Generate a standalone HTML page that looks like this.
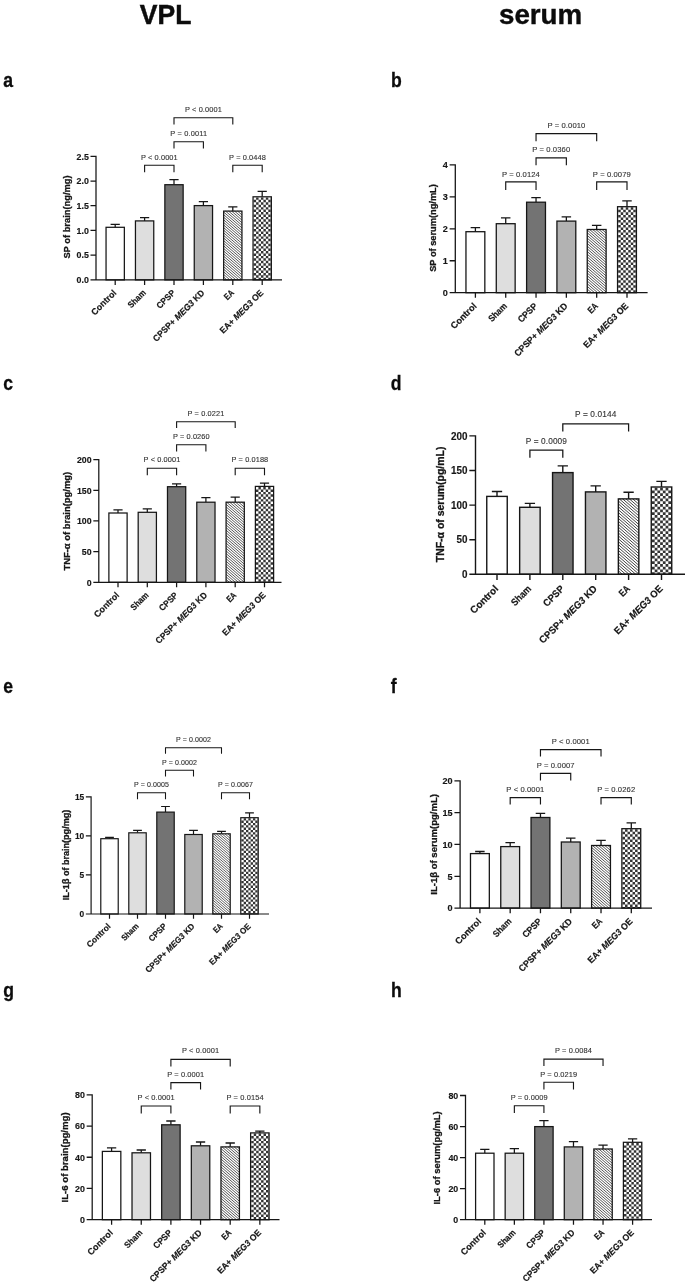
<!DOCTYPE html>
<html lang="en"><head><meta charset="utf-8"><title>VPL / serum cytokine levels</title>
<style>html,body{margin:0;padding:0;background:#fff}svg{display:block}</style></head>
<body>
<svg width="685" height="1288" viewBox="0 0 685 1288" font-family='"Liberation Sans", Arial, Helvetica, sans-serif'>
<rect width="685" height="1288" fill="#fff"/>
<text x="165.6" y="24" font-size="28" font-weight="bold" text-anchor="middle" textLength="51.5" lengthAdjust="spacingAndGlyphs" fill="#0c0c0c" stroke="#0c0c0c" stroke-width="0.5">VPL</text>
<text x="540.6" y="24" font-size="28" font-weight="bold" text-anchor="middle" textLength="83.2" lengthAdjust="spacingAndGlyphs" fill="#0c0c0c" stroke="#0c0c0c" stroke-width="0.4">serum</text>
<g id="panel-a">
<text transform="translate(3.3 87) scale(0.88 1)" font-size="20" font-weight="bold" fill="#0c0c0c" stroke="#0c0c0c" stroke-width="0.3">a</text>
<path d="M115.2 227.3V224.3M110.6 224.3H119.8" stroke="#161616" stroke-width="1.25" fill="none"/>
<rect x="106.05" y="227.3" width="18.3" height="52.6" fill="#ffffff" stroke="#161616" stroke-width="1.25"/>
<path d="M144.6 220.9V217.6M140 217.6H149.2" stroke="#161616" stroke-width="1.25" fill="none"/>
<rect x="135.45" y="220.9" width="18.3" height="59" fill="#dedede" stroke="#161616" stroke-width="1.25"/>
<path d="M174 184.7V179.6M169.4 179.6H178.6" stroke="#161616" stroke-width="1.25" fill="none"/>
<rect x="164.85" y="184.7" width="18.3" height="95.2" fill="#737373" stroke="#161616" stroke-width="1.25"/>
<path d="M203.4 205.6V201.5M198.8 201.5H208" stroke="#161616" stroke-width="1.25" fill="none"/>
<rect x="194.25" y="205.6" width="18.3" height="74.3" fill="#b2b2b2" stroke="#161616" stroke-width="1.25"/>
<path d="M232.8 211.1V206.8M228.2 206.8H237.4" stroke="#161616" stroke-width="1.25" fill="none"/>
<rect x="223.65" y="211.1" width="18.3" height="68.8" fill="#fff"/>
<path d="M223.65 279.63L223.96 279.9M223.65 277.03L226.96 279.9M223.65 274.43L229.96 279.9M223.65 271.83L232.96 279.9M223.65 269.23L235.96 279.9M223.65 266.63L238.96 279.9M223.65 264.03L241.95 279.89M223.65 261.43L241.95 277.29M223.65 258.83L241.95 274.69M223.65 256.23L241.95 272.09M223.65 253.63L241.95 269.49M223.65 251.03L241.95 266.89M223.65 248.43L241.95 264.29M223.65 245.83L241.95 261.69M223.65 243.23L241.95 259.09M223.65 240.63L241.95 256.49M223.65 238.03L241.95 253.89M223.65 235.43L241.95 251.29M223.65 232.83L241.95 248.69M223.65 230.23L241.95 246.09M223.65 227.63L241.95 243.49M223.65 225.03L241.95 240.89M223.65 222.43L241.95 238.29M223.65 219.83L241.95 235.69M223.65 217.23L241.95 233.09M223.65 214.63L241.95 230.49M223.65 212.03L241.95 227.89M225.58 211.1L241.95 225.29M228.58 211.1L241.95 222.69M231.58 211.1L241.95 220.09M234.58 211.1L241.95 217.49M237.58 211.1L241.95 214.89M240.58 211.1L241.95 212.29" stroke="#2a2a2a" stroke-width="0.78" fill="none"/>
<rect x="223.65" y="211.1" width="18.3" height="68.8" fill="none" stroke="#161616" stroke-width="1.25"/>
<path d="M262.2 196.8V191.3M257.6 191.3H266.8" stroke="#161616" stroke-width="1.25" fill="none"/>
<rect x="253.05" y="196.8" width="18.3" height="83.1" fill="#fff"/>
<path d="M256.11 197.42h2.44v2.44h-2.44zM260.98 197.42h2.44v2.44h-2.44zM265.85 197.42h2.44v2.44h-2.44zM270.73 197.42h0.62v2.44h-0.62zM253.67 199.86h2.44v2.44h-2.44zM258.55 199.86h2.44v2.44h-2.44zM263.42 199.86h2.44v2.44h-2.44zM268.29 199.86h2.44v2.44h-2.44zM256.11 202.3h2.44v2.44h-2.44zM260.98 202.3h2.44v2.44h-2.44zM265.85 202.3h2.44v2.44h-2.44zM270.73 202.3h0.62v2.44h-0.62zM253.67 204.73h2.44v2.44h-2.44zM258.55 204.73h2.44v2.44h-2.44zM263.42 204.73h2.44v2.44h-2.44zM268.29 204.73h2.44v2.44h-2.44zM256.11 207.17h2.44v2.44h-2.44zM260.98 207.17h2.44v2.44h-2.44zM265.85 207.17h2.44v2.44h-2.44zM270.73 207.17h0.62v2.44h-0.62zM253.67 209.6h2.44v2.44h-2.44zM258.55 209.6h2.44v2.44h-2.44zM263.42 209.6h2.44v2.44h-2.44zM268.29 209.6h2.44v2.44h-2.44zM256.11 212.04h2.44v2.44h-2.44zM260.98 212.04h2.44v2.44h-2.44zM265.85 212.04h2.44v2.44h-2.44zM270.73 212.04h0.62v2.44h-0.62zM253.67 214.48h2.44v2.44h-2.44zM258.55 214.48h2.44v2.44h-2.44zM263.42 214.48h2.44v2.44h-2.44zM268.29 214.48h2.44v2.44h-2.44zM256.11 216.91h2.44v2.44h-2.44zM260.98 216.91h2.44v2.44h-2.44zM265.85 216.91h2.44v2.44h-2.44zM270.73 216.91h0.62v2.44h-0.62zM253.67 219.35h2.44v2.44h-2.44zM258.55 219.35h2.44v2.44h-2.44zM263.42 219.35h2.44v2.44h-2.44zM268.29 219.35h2.44v2.44h-2.44zM256.11 221.78h2.44v2.44h-2.44zM260.98 221.78h2.44v2.44h-2.44zM265.85 221.78h2.44v2.44h-2.44zM270.73 221.78h0.62v2.44h-0.62zM253.67 224.22h2.44v2.44h-2.44zM258.55 224.22h2.44v2.44h-2.44zM263.42 224.22h2.44v2.44h-2.44zM268.29 224.22h2.44v2.44h-2.44zM256.11 226.66h2.44v2.44h-2.44zM260.98 226.66h2.44v2.44h-2.44zM265.85 226.66h2.44v2.44h-2.44zM270.73 226.66h0.62v2.44h-0.62zM253.67 229.09h2.44v2.44h-2.44zM258.55 229.09h2.44v2.44h-2.44zM263.42 229.09h2.44v2.44h-2.44zM268.29 229.09h2.44v2.44h-2.44zM256.11 231.53h2.44v2.44h-2.44zM260.98 231.53h2.44v2.44h-2.44zM265.85 231.53h2.44v2.44h-2.44zM270.73 231.53h0.62v2.44h-0.62zM253.67 233.96h2.44v2.44h-2.44zM258.55 233.96h2.44v2.44h-2.44zM263.42 233.96h2.44v2.44h-2.44zM268.29 233.96h2.44v2.44h-2.44zM256.11 236.4h2.44v2.44h-2.44zM260.98 236.4h2.44v2.44h-2.44zM265.85 236.4h2.44v2.44h-2.44zM270.73 236.4h0.62v2.44h-0.62zM253.67 238.83h2.44v2.44h-2.44zM258.55 238.83h2.44v2.44h-2.44zM263.42 238.83h2.44v2.44h-2.44zM268.29 238.83h2.44v2.44h-2.44zM256.11 241.27h2.44v2.44h-2.44zM260.98 241.27h2.44v2.44h-2.44zM265.85 241.27h2.44v2.44h-2.44zM270.73 241.27h0.62v2.44h-0.62zM253.67 243.71h2.44v2.44h-2.44zM258.55 243.71h2.44v2.44h-2.44zM263.42 243.71h2.44v2.44h-2.44zM268.29 243.71h2.44v2.44h-2.44zM256.11 246.14h2.44v2.44h-2.44zM260.98 246.14h2.44v2.44h-2.44zM265.85 246.14h2.44v2.44h-2.44zM270.73 246.14h0.62v2.44h-0.62zM253.67 248.58h2.44v2.44h-2.44zM258.55 248.58h2.44v2.44h-2.44zM263.42 248.58h2.44v2.44h-2.44zM268.29 248.58h2.44v2.44h-2.44zM256.11 251.01h2.44v2.44h-2.44zM260.98 251.01h2.44v2.44h-2.44zM265.85 251.01h2.44v2.44h-2.44zM270.73 251.01h0.62v2.44h-0.62zM253.67 253.45h2.44v2.44h-2.44zM258.55 253.45h2.44v2.44h-2.44zM263.42 253.45h2.44v2.44h-2.44zM268.29 253.45h2.44v2.44h-2.44zM256.11 255.89h2.44v2.44h-2.44zM260.98 255.89h2.44v2.44h-2.44zM265.85 255.89h2.44v2.44h-2.44zM270.73 255.89h0.62v2.44h-0.62zM253.67 258.32h2.44v2.44h-2.44zM258.55 258.32h2.44v2.44h-2.44zM263.42 258.32h2.44v2.44h-2.44zM268.29 258.32h2.44v2.44h-2.44zM256.11 260.76h2.44v2.44h-2.44zM260.98 260.76h2.44v2.44h-2.44zM265.85 260.76h2.44v2.44h-2.44zM270.73 260.76h0.62v2.44h-0.62zM253.67 263.19h2.44v2.44h-2.44zM258.55 263.19h2.44v2.44h-2.44zM263.42 263.19h2.44v2.44h-2.44zM268.29 263.19h2.44v2.44h-2.44zM256.11 265.63h2.44v2.44h-2.44zM260.98 265.63h2.44v2.44h-2.44zM265.85 265.63h2.44v2.44h-2.44zM270.73 265.63h0.62v2.44h-0.62zM253.67 268.06h2.44v2.44h-2.44zM258.55 268.06h2.44v2.44h-2.44zM263.42 268.06h2.44v2.44h-2.44zM268.29 268.06h2.44v2.44h-2.44zM256.11 270.5h2.44v2.44h-2.44zM260.98 270.5h2.44v2.44h-2.44zM265.85 270.5h2.44v2.44h-2.44zM270.73 270.5h0.62v2.44h-0.62zM253.67 272.94h2.44v2.44h-2.44zM258.55 272.94h2.44v2.44h-2.44zM263.42 272.94h2.44v2.44h-2.44zM268.29 272.94h2.44v2.44h-2.44zM256.11 275.37h2.44v2.44h-2.44zM260.98 275.37h2.44v2.44h-2.44zM265.85 275.37h2.44v2.44h-2.44zM270.73 275.37h0.62v2.44h-0.62zM253.67 277.81h2.44v2.09h-2.44zM258.55 277.81h2.44v2.09h-2.44zM263.42 277.81h2.44v2.09h-2.44zM268.29 277.81h2.44v2.09h-2.44z" fill="#333"/>
<rect x="253.05" y="196.8" width="18.3" height="83.1" fill="none" stroke="#161616" stroke-width="1.25"/>
<path d="M96 155.68V279.9H282M96 279.9h-5.5M96 255.18h-5.5M96 230.46h-5.5M96 205.74h-5.5M96 181.02h-5.5M96 156.3h-5.5M115.2 279.9v5M144.6 279.9v5M174 279.9v5M203.4 279.9v5M232.8 279.9v5M262.2 279.9v5" stroke="#161616" stroke-width="1.25" fill="none"/>
<text transform="translate(88.8 283.17) scale(0.96 1)" font-size="9.2" font-weight="bold" text-anchor="end" fill="#161616" stroke="#161616" stroke-width="0.15">0.0</text>
<text transform="translate(88.8 258.45) scale(0.96 1)" font-size="9.2" font-weight="bold" text-anchor="end" fill="#161616" stroke="#161616" stroke-width="0.15">0.5</text>
<text transform="translate(88.8 233.73) scale(0.96 1)" font-size="9.2" font-weight="bold" text-anchor="end" fill="#161616" stroke="#161616" stroke-width="0.15">1.0</text>
<text transform="translate(88.8 209.01) scale(0.96 1)" font-size="9.2" font-weight="bold" text-anchor="end" fill="#161616" stroke="#161616" stroke-width="0.15">1.5</text>
<text transform="translate(88.8 184.29) scale(0.96 1)" font-size="9.2" font-weight="bold" text-anchor="end" fill="#161616" stroke="#161616" stroke-width="0.15">2.0</text>
<text transform="translate(88.8 159.57) scale(0.96 1)" font-size="9.2" font-weight="bold" text-anchor="end" fill="#161616" stroke="#161616" stroke-width="0.15">2.5</text>
<text transform="translate(69.7 217) rotate(-90)" font-size="9.3" font-weight="bold" text-anchor="middle" textLength="83.2" lengthAdjust="spacingAndGlyphs" fill="#161616" stroke="#161616" stroke-width="0.3">SP of brain(ng/mg)</text>
<text transform="translate(117 293.4) rotate(-45)" font-size="8.88" font-weight="bold" text-anchor="end" textLength="31.5" lengthAdjust="spacingAndGlyphs" fill="#161616" stroke="#161616" stroke-width="0.18">Control</text>
<text transform="translate(146.4 293.4) rotate(-45)" font-size="8.88" font-weight="bold" text-anchor="end" textLength="21.5" lengthAdjust="spacingAndGlyphs" fill="#161616" stroke="#161616" stroke-width="0.18">Sham</text>
<text transform="translate(175.8 293.4) rotate(-45)" font-size="8.88" font-weight="bold" text-anchor="end" textLength="22.5" lengthAdjust="spacingAndGlyphs" fill="#161616" stroke="#161616" stroke-width="0.18">CPSP</text>
<text transform="translate(205.2 293.4) rotate(-45)" font-size="8.88" font-weight="bold" text-anchor="end" textLength="69" lengthAdjust="spacingAndGlyphs" fill="#161616" stroke="#161616" stroke-width="0.18">CPSP+ <tspan font-style="italic">MEG3</tspan> KD</text>
<text transform="translate(234.6 293.4) rotate(-45)" font-size="8.88" font-weight="bold" text-anchor="end" textLength="10" lengthAdjust="spacingAndGlyphs" fill="#161616" stroke="#161616" stroke-width="0.18">EA</text>
<text transform="translate(264 293.4) rotate(-45)" font-size="8.88" font-weight="bold" text-anchor="end" textLength="57.5" lengthAdjust="spacingAndGlyphs" fill="#161616" stroke="#161616" stroke-width="0.18">EA+ <tspan font-style="italic">MEG3</tspan> OE</text>
<path d="M174 124.5V117.7H232.8V124.5" stroke="#161616" stroke-width="1.12" fill="none"/>
<text x="203.4" y="112.26" font-size="7.4" text-anchor="middle" textLength="36.8" fill="#333" stroke="#333" stroke-width="0.12">P &lt; 0.0001</text>
<path d="M174 148.4V141.7H203.4V148.4" stroke="#161616" stroke-width="1.12" fill="none"/>
<text x="188.7" y="135.86" font-size="7.4" text-anchor="middle" textLength="36.8" fill="#333" stroke="#333" stroke-width="0.12">P = 0.0011</text>
<path d="M144.6 172.3V165.3H174V172.3" stroke="#161616" stroke-width="1.12" fill="none"/>
<text x="159.3" y="159.56" font-size="7.4" text-anchor="middle" textLength="36.8" fill="#333" stroke="#333" stroke-width="0.12">P &lt; 0.0001</text>
<path d="M232.8 172.3V165.3H262.2V172.3" stroke="#161616" stroke-width="1.12" fill="none"/>
<text x="247.5" y="159.56" font-size="7.4" text-anchor="middle" textLength="36.8" fill="#333" stroke="#333" stroke-width="0.12">P = 0.0448</text>
</g>
<g id="panel-b">
<text transform="translate(391.1 87) scale(0.88 1)" font-size="20" font-weight="bold" fill="#0c0c0c" stroke="#0c0c0c" stroke-width="0.3">b</text>
<path d="M475.4 231.7V227.6M470.66 227.6H480.14" stroke="#161616" stroke-width="1.29" fill="none"/>
<rect x="465.96" y="231.7" width="18.87" height="61" fill="#ffffff" stroke="#161616" stroke-width="1.29"/>
<path d="M505.72 223.7V217.9M500.98 217.9H510.46" stroke="#161616" stroke-width="1.29" fill="none"/>
<rect x="496.28" y="223.7" width="18.87" height="69" fill="#dedede" stroke="#161616" stroke-width="1.29"/>
<path d="M536.04 202.2V197.7M531.3 197.7H540.78" stroke="#161616" stroke-width="1.29" fill="none"/>
<rect x="526.6" y="202.2" width="18.87" height="90.5" fill="#737373" stroke="#161616" stroke-width="1.29"/>
<path d="M566.36 221.1V216.9M561.62 216.9H571.1" stroke="#161616" stroke-width="1.29" fill="none"/>
<rect x="556.92" y="221.1" width="18.87" height="71.6" fill="#b2b2b2" stroke="#161616" stroke-width="1.29"/>
<path d="M596.68 229.5V225.3M591.94 225.3H601.42" stroke="#161616" stroke-width="1.29" fill="none"/>
<rect x="587.24" y="229.5" width="18.87" height="63.2" fill="#fff"/>
<path d="M587.24 291.75L588.33 292.7M587.24 289.07L591.43 292.7M587.24 286.39L594.52 292.7M587.24 283.71L597.62 292.7M587.24 281.03L600.71 292.7M587.24 278.35L603.8 292.7M587.24 275.67L606.12 292.02M587.24 272.98L606.12 289.34M587.24 270.3L606.12 286.66M587.24 267.62L606.12 283.98M587.24 264.94L606.12 281.3M587.24 262.26L606.12 278.62M587.24 259.58L606.12 275.93M587.24 256.9L606.12 273.25M587.24 254.21L606.12 270.57M587.24 251.53L606.12 267.89M587.24 248.85L606.12 265.21M587.24 246.17L606.12 262.53M587.24 243.49L606.12 259.85M587.24 240.81L606.12 257.17M587.24 238.13L606.12 254.48M587.24 235.45L606.12 251.8M587.24 232.76L606.12 249.12M587.24 230.08L606.12 246.44M589.66 229.5L606.12 243.76M592.76 229.5L606.12 241.08M595.85 229.5L606.12 238.4M598.95 229.5L606.12 235.71M602.04 229.5L606.12 233.03M605.13 229.5L606.12 230.35" stroke="#2a2a2a" stroke-width="0.8" fill="none"/>
<rect x="587.24" y="229.5" width="18.87" height="63.2" fill="none" stroke="#161616" stroke-width="1.29"/>
<path d="M627 206.7V200.9M622.26 200.9H631.74" stroke="#161616" stroke-width="1.29" fill="none"/>
<rect x="617.56" y="206.7" width="18.87" height="86" fill="#fff"/>
<path d="M620.72 207.34h2.51v2.51h-2.51zM625.74 207.34h2.51v2.51h-2.51zM630.77 207.34h2.51v2.51h-2.51zM635.79 207.34h0.64v2.51h-0.64zM618.21 209.86h2.51v2.51h-2.51zM623.23 209.86h2.51v2.51h-2.51zM628.26 209.86h2.51v2.51h-2.51zM633.28 209.86h2.51v2.51h-2.51zM620.72 212.37h2.51v2.51h-2.51zM625.74 212.37h2.51v2.51h-2.51zM630.77 212.37h2.51v2.51h-2.51zM635.79 212.37h0.64v2.51h-0.64zM618.21 214.88h2.51v2.51h-2.51zM623.23 214.88h2.51v2.51h-2.51zM628.26 214.88h2.51v2.51h-2.51zM633.28 214.88h2.51v2.51h-2.51zM620.72 217.39h2.51v2.51h-2.51zM625.74 217.39h2.51v2.51h-2.51zM630.77 217.39h2.51v2.51h-2.51zM635.79 217.39h0.64v2.51h-0.64zM618.21 219.9h2.51v2.51h-2.51zM623.23 219.9h2.51v2.51h-2.51zM628.26 219.9h2.51v2.51h-2.51zM633.28 219.9h2.51v2.51h-2.51zM620.72 222.42h2.51v2.51h-2.51zM625.74 222.42h2.51v2.51h-2.51zM630.77 222.42h2.51v2.51h-2.51zM635.79 222.42h0.64v2.51h-0.64zM618.21 224.93h2.51v2.51h-2.51zM623.23 224.93h2.51v2.51h-2.51zM628.26 224.93h2.51v2.51h-2.51zM633.28 224.93h2.51v2.51h-2.51zM620.72 227.44h2.51v2.51h-2.51zM625.74 227.44h2.51v2.51h-2.51zM630.77 227.44h2.51v2.51h-2.51zM635.79 227.44h0.64v2.51h-0.64zM618.21 229.95h2.51v2.51h-2.51zM623.23 229.95h2.51v2.51h-2.51zM628.26 229.95h2.51v2.51h-2.51zM633.28 229.95h2.51v2.51h-2.51zM620.72 232.47h2.51v2.51h-2.51zM625.74 232.47h2.51v2.51h-2.51zM630.77 232.47h2.51v2.51h-2.51zM635.79 232.47h0.64v2.51h-0.64zM618.21 234.98h2.51v2.51h-2.51zM623.23 234.98h2.51v2.51h-2.51zM628.26 234.98h2.51v2.51h-2.51zM633.28 234.98h2.51v2.51h-2.51zM620.72 237.49h2.51v2.51h-2.51zM625.74 237.49h2.51v2.51h-2.51zM630.77 237.49h2.51v2.51h-2.51zM635.79 237.49h0.64v2.51h-0.64zM618.21 240h2.51v2.51h-2.51zM623.23 240h2.51v2.51h-2.51zM628.26 240h2.51v2.51h-2.51zM633.28 240h2.51v2.51h-2.51zM620.72 242.51h2.51v2.51h-2.51zM625.74 242.51h2.51v2.51h-2.51zM630.77 242.51h2.51v2.51h-2.51zM635.79 242.51h0.64v2.51h-0.64zM618.21 245.03h2.51v2.51h-2.51zM623.23 245.03h2.51v2.51h-2.51zM628.26 245.03h2.51v2.51h-2.51zM633.28 245.03h2.51v2.51h-2.51zM620.72 247.54h2.51v2.51h-2.51zM625.74 247.54h2.51v2.51h-2.51zM630.77 247.54h2.51v2.51h-2.51zM635.79 247.54h0.64v2.51h-0.64zM618.21 250.05h2.51v2.51h-2.51zM623.23 250.05h2.51v2.51h-2.51zM628.26 250.05h2.51v2.51h-2.51zM633.28 250.05h2.51v2.51h-2.51zM620.72 252.56h2.51v2.51h-2.51zM625.74 252.56h2.51v2.51h-2.51zM630.77 252.56h2.51v2.51h-2.51zM635.79 252.56h0.64v2.51h-0.64zM618.21 255.07h2.51v2.51h-2.51zM623.23 255.07h2.51v2.51h-2.51zM628.26 255.07h2.51v2.51h-2.51zM633.28 255.07h2.51v2.51h-2.51zM620.72 257.59h2.51v2.51h-2.51zM625.74 257.59h2.51v2.51h-2.51zM630.77 257.59h2.51v2.51h-2.51zM635.79 257.59h0.64v2.51h-0.64zM618.21 260.1h2.51v2.51h-2.51zM623.23 260.1h2.51v2.51h-2.51zM628.26 260.1h2.51v2.51h-2.51zM633.28 260.1h2.51v2.51h-2.51zM620.72 262.61h2.51v2.51h-2.51zM625.74 262.61h2.51v2.51h-2.51zM630.77 262.61h2.51v2.51h-2.51zM635.79 262.61h0.64v2.51h-0.64zM618.21 265.12h2.51v2.51h-2.51zM623.23 265.12h2.51v2.51h-2.51zM628.26 265.12h2.51v2.51h-2.51zM633.28 265.12h2.51v2.51h-2.51zM620.72 267.63h2.51v2.51h-2.51zM625.74 267.63h2.51v2.51h-2.51zM630.77 267.63h2.51v2.51h-2.51zM635.79 267.63h0.64v2.51h-0.64zM618.21 270.15h2.51v2.51h-2.51zM623.23 270.15h2.51v2.51h-2.51zM628.26 270.15h2.51v2.51h-2.51zM633.28 270.15h2.51v2.51h-2.51zM620.72 272.66h2.51v2.51h-2.51zM625.74 272.66h2.51v2.51h-2.51zM630.77 272.66h2.51v2.51h-2.51zM635.79 272.66h0.64v2.51h-0.64zM618.21 275.17h2.51v2.51h-2.51zM623.23 275.17h2.51v2.51h-2.51zM628.26 275.17h2.51v2.51h-2.51zM633.28 275.17h2.51v2.51h-2.51zM620.72 277.68h2.51v2.51h-2.51zM625.74 277.68h2.51v2.51h-2.51zM630.77 277.68h2.51v2.51h-2.51zM635.79 277.68h0.64v2.51h-0.64zM618.21 280.19h2.51v2.51h-2.51zM623.23 280.19h2.51v2.51h-2.51zM628.26 280.19h2.51v2.51h-2.51zM633.28 280.19h2.51v2.51h-2.51zM620.72 282.71h2.51v2.51h-2.51zM625.74 282.71h2.51v2.51h-2.51zM630.77 282.71h2.51v2.51h-2.51zM635.79 282.71h0.64v2.51h-0.64zM618.21 285.22h2.51v2.51h-2.51zM623.23 285.22h2.51v2.51h-2.51zM628.26 285.22h2.51v2.51h-2.51zM633.28 285.22h2.51v2.51h-2.51zM620.72 287.73h2.51v2.51h-2.51zM625.74 287.73h2.51v2.51h-2.51zM630.77 287.73h2.51v2.51h-2.51zM635.79 287.73h0.64v2.51h-0.64zM618.21 290.24h2.51v2.46h-2.51zM623.23 290.24h2.51v2.46h-2.51zM628.26 290.24h2.51v2.46h-2.51zM633.28 290.24h2.51v2.46h-2.51z" fill="#333"/>
<rect x="617.56" y="206.7" width="18.87" height="86" fill="none" stroke="#161616" stroke-width="1.29"/>
<path d="M455.3 164.26V292.7H647.6M455.3 292.7h-5.67M455.3 260.75h-5.67M455.3 228.8h-5.67M455.3 196.85h-5.67M455.3 164.9h-5.67M475.4 292.7v5.16M505.72 292.7v5.16M536.04 292.7v5.16M566.36 292.7v5.16M596.68 292.7v5.16M627 292.7v5.16" stroke="#161616" stroke-width="1.29" fill="none"/>
<text transform="translate(447.87 296.07) scale(0.96 1)" font-size="9.49" font-weight="bold" text-anchor="end" fill="#161616" stroke="#161616" stroke-width="0.15">0</text>
<text transform="translate(447.87 264.12) scale(0.96 1)" font-size="9.49" font-weight="bold" text-anchor="end" fill="#161616" stroke="#161616" stroke-width="0.15">1</text>
<text transform="translate(447.87 232.17) scale(0.96 1)" font-size="9.49" font-weight="bold" text-anchor="end" fill="#161616" stroke="#161616" stroke-width="0.15">2</text>
<text transform="translate(447.87 200.22) scale(0.96 1)" font-size="9.49" font-weight="bold" text-anchor="end" fill="#161616" stroke="#161616" stroke-width="0.15">3</text>
<text transform="translate(447.87 168.27) scale(0.96 1)" font-size="9.49" font-weight="bold" text-anchor="end" fill="#161616" stroke="#161616" stroke-width="0.15">4</text>
<text transform="translate(435.5 228) rotate(-90)" font-size="9.59" font-weight="bold" text-anchor="middle" textLength="87.7" lengthAdjust="spacingAndGlyphs" fill="#161616" stroke="#161616" stroke-width="0.3">SP of serum(ng/mL)</text>
<text transform="translate(477.26 306.62) rotate(-45)" font-size="9.16" font-weight="bold" text-anchor="end" textLength="32.49" lengthAdjust="spacingAndGlyphs" fill="#161616" stroke="#161616" stroke-width="0.18">Control</text>
<text transform="translate(507.58 306.62) rotate(-45)" font-size="9.16" font-weight="bold" text-anchor="end" textLength="22.17" lengthAdjust="spacingAndGlyphs" fill="#161616" stroke="#161616" stroke-width="0.18">Sham</text>
<text transform="translate(537.9 306.62) rotate(-45)" font-size="9.16" font-weight="bold" text-anchor="end" textLength="23.2" lengthAdjust="spacingAndGlyphs" fill="#161616" stroke="#161616" stroke-width="0.18">CPSP</text>
<text transform="translate(568.22 306.62) rotate(-45)" font-size="9.16" font-weight="bold" text-anchor="end" textLength="71.16" lengthAdjust="spacingAndGlyphs" fill="#161616" stroke="#161616" stroke-width="0.18">CPSP+ <tspan font-style="italic">MEG3</tspan> KD</text>
<text transform="translate(598.54 306.62) rotate(-45)" font-size="9.16" font-weight="bold" text-anchor="end" textLength="10.31" lengthAdjust="spacingAndGlyphs" fill="#161616" stroke="#161616" stroke-width="0.18">EA</text>
<text transform="translate(628.86 306.62) rotate(-45)" font-size="9.16" font-weight="bold" text-anchor="end" textLength="59.3" lengthAdjust="spacingAndGlyphs" fill="#161616" stroke="#161616" stroke-width="0.18">EA+ <tspan font-style="italic">MEG3</tspan> OE</text>
<path d="M536.04 141.3V133.7H596.68V141.3" stroke="#161616" stroke-width="1.16" fill="none"/>
<text x="566.36" y="127.75" font-size="7.63" text-anchor="middle" textLength="37.95" fill="#333" stroke="#333" stroke-width="0.12">P = 0.0010</text>
<path d="M536.04 165.2V157.8H566.36V165.2" stroke="#161616" stroke-width="1.16" fill="none"/>
<text x="551.2" y="152.25" font-size="7.63" text-anchor="middle" textLength="37.95" fill="#333" stroke="#333" stroke-width="0.12">P = 0.0360</text>
<path d="M505.72 190V181.9H536.04V190" stroke="#161616" stroke-width="1.16" fill="none"/>
<text x="520.88" y="176.65" font-size="7.63" text-anchor="middle" textLength="37.95" fill="#333" stroke="#333" stroke-width="0.12">P = 0.0124</text>
<path d="M596.68 190V181.9H627V190" stroke="#161616" stroke-width="1.16" fill="none"/>
<text x="611.84" y="176.65" font-size="7.63" text-anchor="middle" textLength="37.95" fill="#333" stroke="#333" stroke-width="0.12">P = 0.0079</text>
</g>
<g id="panel-c">
<text transform="translate(3.3 390) scale(0.88 1)" font-size="20" font-weight="bold" fill="#0c0c0c" stroke="#0c0c0c" stroke-width="0.3">c</text>
<path d="M118 513V509.9M113.42 509.9H122.58" stroke="#161616" stroke-width="1.25" fill="none"/>
<rect x="108.88" y="513" width="18.24" height="69.3" fill="#ffffff" stroke="#161616" stroke-width="1.25"/>
<path d="M147.3 512.3V508.8M142.72 508.8H151.88" stroke="#161616" stroke-width="1.25" fill="none"/>
<rect x="138.18" y="512.3" width="18.24" height="70" fill="#dedede" stroke="#161616" stroke-width="1.25"/>
<path d="M176.6 486.7V483.9M172.02 483.9H181.18" stroke="#161616" stroke-width="1.25" fill="none"/>
<rect x="167.48" y="486.7" width="18.24" height="95.6" fill="#737373" stroke="#161616" stroke-width="1.25"/>
<path d="M205.9 502.2V497.6M201.32 497.6H210.48" stroke="#161616" stroke-width="1.25" fill="none"/>
<rect x="196.78" y="502.2" width="18.24" height="80.1" fill="#b2b2b2" stroke="#161616" stroke-width="1.25"/>
<path d="M235.2 502.2V497.2M230.62 497.2H239.78" stroke="#161616" stroke-width="1.25" fill="none"/>
<rect x="226.08" y="502.2" width="18.24" height="80.1" fill="#fff"/>
<path d="M226.08 582.02L226.41 582.3M226.08 579.43L229.39 582.3M226.08 576.84L232.38 582.3M226.08 574.25L235.37 582.3M226.08 571.65L238.36 582.3M226.08 569.06L241.35 582.3M226.08 566.47L244.32 582.28M226.08 563.88L244.32 579.69M226.08 561.29L244.32 577.1M226.08 558.7L244.32 574.51M226.08 556.11L244.32 571.91M226.08 553.52L244.32 569.32M226.08 550.92L244.32 566.73M226.08 548.33L244.32 564.14M226.08 545.74L244.32 561.55M226.08 543.15L244.32 558.96M226.08 540.56L244.32 556.37M226.08 537.97L244.32 553.78M226.08 535.38L244.32 551.18M226.08 532.79L244.32 548.59M226.08 530.2L244.32 546M226.08 527.6L244.32 543.41M226.08 525.01L244.32 540.82M226.08 522.42L244.32 538.23M226.08 519.83L244.32 535.64M226.08 517.24L244.32 533.05M226.08 514.65L244.32 530.46M226.08 512.06L244.32 527.86M226.08 509.47L244.32 525.27M226.08 506.88L244.32 522.68M226.08 504.28L244.32 520.09M226.67 502.2L244.32 517.5M229.66 502.2L244.32 514.91M232.65 502.2L244.32 512.32M235.64 502.2L244.32 509.73M238.62 502.2L244.32 507.14M241.61 502.2L244.32 504.54" stroke="#2a2a2a" stroke-width="0.78" fill="none"/>
<rect x="226.08" y="502.2" width="18.24" height="80.1" fill="none" stroke="#161616" stroke-width="1.25"/>
<path d="M264.5 486.4V483.2M259.92 483.2H269.08" stroke="#161616" stroke-width="1.25" fill="none"/>
<rect x="255.38" y="486.4" width="18.24" height="95.9" fill="#fff"/>
<path d="M258.43 487.02h2.43v2.43h-2.43zM263.29 487.02h2.43v2.43h-2.43zM268.14 487.02h2.43v2.43h-2.43zM273 487.02h0.62v2.43h-0.62zM256 489.45h2.43v2.43h-2.43zM260.86 489.45h2.43v2.43h-2.43zM265.71 489.45h2.43v2.43h-2.43zM270.57 489.45h2.43v2.43h-2.43zM258.43 491.88h2.43v2.43h-2.43zM263.29 491.88h2.43v2.43h-2.43zM268.14 491.88h2.43v2.43h-2.43zM273 491.88h0.62v2.43h-0.62zM256 494.31h2.43v2.43h-2.43zM260.86 494.31h2.43v2.43h-2.43zM265.71 494.31h2.43v2.43h-2.43zM270.57 494.31h2.43v2.43h-2.43zM258.43 496.73h2.43v2.43h-2.43zM263.29 496.73h2.43v2.43h-2.43zM268.14 496.73h2.43v2.43h-2.43zM273 496.73h0.62v2.43h-0.62zM256 499.16h2.43v2.43h-2.43zM260.86 499.16h2.43v2.43h-2.43zM265.71 499.16h2.43v2.43h-2.43zM270.57 499.16h2.43v2.43h-2.43zM258.43 501.59h2.43v2.43h-2.43zM263.29 501.59h2.43v2.43h-2.43zM268.14 501.59h2.43v2.43h-2.43zM273 501.59h0.62v2.43h-0.62zM256 504.02h2.43v2.43h-2.43zM260.86 504.02h2.43v2.43h-2.43zM265.71 504.02h2.43v2.43h-2.43zM270.57 504.02h2.43v2.43h-2.43zM258.43 506.44h2.43v2.43h-2.43zM263.29 506.44h2.43v2.43h-2.43zM268.14 506.44h2.43v2.43h-2.43zM273 506.44h0.62v2.43h-0.62zM256 508.87h2.43v2.43h-2.43zM260.86 508.87h2.43v2.43h-2.43zM265.71 508.87h2.43v2.43h-2.43zM270.57 508.87h2.43v2.43h-2.43zM258.43 511.3h2.43v2.43h-2.43zM263.29 511.3h2.43v2.43h-2.43zM268.14 511.3h2.43v2.43h-2.43zM273 511.3h0.62v2.43h-0.62zM256 513.73h2.43v2.43h-2.43zM260.86 513.73h2.43v2.43h-2.43zM265.71 513.73h2.43v2.43h-2.43zM270.57 513.73h2.43v2.43h-2.43zM258.43 516.15h2.43v2.43h-2.43zM263.29 516.15h2.43v2.43h-2.43zM268.14 516.15h2.43v2.43h-2.43zM273 516.15h0.62v2.43h-0.62zM256 518.58h2.43v2.43h-2.43zM260.86 518.58h2.43v2.43h-2.43zM265.71 518.58h2.43v2.43h-2.43zM270.57 518.58h2.43v2.43h-2.43zM258.43 521.01h2.43v2.43h-2.43zM263.29 521.01h2.43v2.43h-2.43zM268.14 521.01h2.43v2.43h-2.43zM273 521.01h0.62v2.43h-0.62zM256 523.44h2.43v2.43h-2.43zM260.86 523.44h2.43v2.43h-2.43zM265.71 523.44h2.43v2.43h-2.43zM270.57 523.44h2.43v2.43h-2.43zM258.43 525.86h2.43v2.43h-2.43zM263.29 525.86h2.43v2.43h-2.43zM268.14 525.86h2.43v2.43h-2.43zM273 525.86h0.62v2.43h-0.62zM256 528.29h2.43v2.43h-2.43zM260.86 528.29h2.43v2.43h-2.43zM265.71 528.29h2.43v2.43h-2.43zM270.57 528.29h2.43v2.43h-2.43zM258.43 530.72h2.43v2.43h-2.43zM263.29 530.72h2.43v2.43h-2.43zM268.14 530.72h2.43v2.43h-2.43zM273 530.72h0.62v2.43h-0.62zM256 533.15h2.43v2.43h-2.43zM260.86 533.15h2.43v2.43h-2.43zM265.71 533.15h2.43v2.43h-2.43zM270.57 533.15h2.43v2.43h-2.43zM258.43 535.57h2.43v2.43h-2.43zM263.29 535.57h2.43v2.43h-2.43zM268.14 535.57h2.43v2.43h-2.43zM273 535.57h0.62v2.43h-0.62zM256 538h2.43v2.43h-2.43zM260.86 538h2.43v2.43h-2.43zM265.71 538h2.43v2.43h-2.43zM270.57 538h2.43v2.43h-2.43zM258.43 540.43h2.43v2.43h-2.43zM263.29 540.43h2.43v2.43h-2.43zM268.14 540.43h2.43v2.43h-2.43zM273 540.43h0.62v2.43h-0.62zM256 542.86h2.43v2.43h-2.43zM260.86 542.86h2.43v2.43h-2.43zM265.71 542.86h2.43v2.43h-2.43zM270.57 542.86h2.43v2.43h-2.43zM258.43 545.28h2.43v2.43h-2.43zM263.29 545.28h2.43v2.43h-2.43zM268.14 545.28h2.43v2.43h-2.43zM273 545.28h0.62v2.43h-0.62zM256 547.71h2.43v2.43h-2.43zM260.86 547.71h2.43v2.43h-2.43zM265.71 547.71h2.43v2.43h-2.43zM270.57 547.71h2.43v2.43h-2.43zM258.43 550.14h2.43v2.43h-2.43zM263.29 550.14h2.43v2.43h-2.43zM268.14 550.14h2.43v2.43h-2.43zM273 550.14h0.62v2.43h-0.62zM256 552.57h2.43v2.43h-2.43zM260.86 552.57h2.43v2.43h-2.43zM265.71 552.57h2.43v2.43h-2.43zM270.57 552.57h2.43v2.43h-2.43zM258.43 554.99h2.43v2.43h-2.43zM263.29 554.99h2.43v2.43h-2.43zM268.14 554.99h2.43v2.43h-2.43zM273 554.99h0.62v2.43h-0.62zM256 557.42h2.43v2.43h-2.43zM260.86 557.42h2.43v2.43h-2.43zM265.71 557.42h2.43v2.43h-2.43zM270.57 557.42h2.43v2.43h-2.43zM258.43 559.85h2.43v2.43h-2.43zM263.29 559.85h2.43v2.43h-2.43zM268.14 559.85h2.43v2.43h-2.43zM273 559.85h0.62v2.43h-0.62zM256 562.28h2.43v2.43h-2.43zM260.86 562.28h2.43v2.43h-2.43zM265.71 562.28h2.43v2.43h-2.43zM270.57 562.28h2.43v2.43h-2.43zM258.43 564.71h2.43v2.43h-2.43zM263.29 564.71h2.43v2.43h-2.43zM268.14 564.71h2.43v2.43h-2.43zM273 564.71h0.62v2.43h-0.62zM256 567.13h2.43v2.43h-2.43zM260.86 567.13h2.43v2.43h-2.43zM265.71 567.13h2.43v2.43h-2.43zM270.57 567.13h2.43v2.43h-2.43zM258.43 569.56h2.43v2.43h-2.43zM263.29 569.56h2.43v2.43h-2.43zM268.14 569.56h2.43v2.43h-2.43zM273 569.56h0.62v2.43h-0.62zM256 571.99h2.43v2.43h-2.43zM260.86 571.99h2.43v2.43h-2.43zM265.71 571.99h2.43v2.43h-2.43zM270.57 571.99h2.43v2.43h-2.43zM258.43 574.42h2.43v2.43h-2.43zM263.29 574.42h2.43v2.43h-2.43zM268.14 574.42h2.43v2.43h-2.43zM273 574.42h0.62v2.43h-0.62zM256 576.84h2.43v2.43h-2.43zM260.86 576.84h2.43v2.43h-2.43zM265.71 576.84h2.43v2.43h-2.43zM270.57 576.84h2.43v2.43h-2.43zM258.43 579.27h2.43v2.43h-2.43zM263.29 579.27h2.43v2.43h-2.43zM268.14 579.27h2.43v2.43h-2.43zM273 579.27h0.62v2.43h-0.62zM256 581.7h2.43v0.6h-2.43zM260.86 581.7h2.43v0.6h-2.43zM265.71 581.7h2.43v0.6h-2.43zM270.57 581.7h2.43v0.6h-2.43z" fill="#333"/>
<rect x="255.38" y="486.4" width="18.24" height="95.9" fill="none" stroke="#161616" stroke-width="1.25"/>
<path d="M98.8 458.98V582.3H281.5M98.8 582.3h-5.48M98.8 551.62h-5.48M98.8 520.95h-5.48M98.8 490.27h-5.48M98.8 459.6h-5.48M118 582.3v4.98M147.3 582.3v4.98M176.6 582.3v4.98M205.9 582.3v4.98M235.2 582.3v4.98M264.5 582.3v4.98" stroke="#161616" stroke-width="1.25" fill="none"/>
<text transform="translate(91.62 585.55) scale(0.96 1)" font-size="9.17" font-weight="bold" text-anchor="end" fill="#161616" stroke="#161616" stroke-width="0.15">0</text>
<text transform="translate(91.62 554.88) scale(0.96 1)" font-size="9.17" font-weight="bold" text-anchor="end" fill="#161616" stroke="#161616" stroke-width="0.15">50</text>
<text transform="translate(91.62 524.2) scale(0.96 1)" font-size="9.17" font-weight="bold" text-anchor="end" fill="#161616" stroke="#161616" stroke-width="0.15">100</text>
<text transform="translate(91.62 493.53) scale(0.96 1)" font-size="9.17" font-weight="bold" text-anchor="end" fill="#161616" stroke="#161616" stroke-width="0.15">150</text>
<text transform="translate(91.62 462.85) scale(0.96 1)" font-size="9.17" font-weight="bold" text-anchor="end" fill="#161616" stroke="#161616" stroke-width="0.15">200</text>
<text transform="translate(69.8 521.2) rotate(-90)" font-size="9.27" font-weight="bold" text-anchor="middle" textLength="98.8" lengthAdjust="spacingAndGlyphs" fill="#161616" stroke="#161616" stroke-width="0.3">TNF-α of brain(pg/mg)</text>
<text transform="translate(119.79 595.75) rotate(-45)" font-size="8.85" font-weight="bold" text-anchor="end" textLength="31.39" lengthAdjust="spacingAndGlyphs" fill="#161616" stroke="#161616" stroke-width="0.18">Control</text>
<text transform="translate(149.09 595.75) rotate(-45)" font-size="8.85" font-weight="bold" text-anchor="end" textLength="21.43" lengthAdjust="spacingAndGlyphs" fill="#161616" stroke="#161616" stroke-width="0.18">Sham</text>
<text transform="translate(178.39 595.75) rotate(-45)" font-size="8.85" font-weight="bold" text-anchor="end" textLength="22.42" lengthAdjust="spacingAndGlyphs" fill="#161616" stroke="#161616" stroke-width="0.18">CPSP</text>
<text transform="translate(207.69 595.75) rotate(-45)" font-size="8.85" font-weight="bold" text-anchor="end" textLength="68.77" lengthAdjust="spacingAndGlyphs" fill="#161616" stroke="#161616" stroke-width="0.18">CPSP+ <tspan font-style="italic">MEG3</tspan> KD</text>
<text transform="translate(236.99 595.75) rotate(-45)" font-size="8.85" font-weight="bold" text-anchor="end" textLength="9.97" lengthAdjust="spacingAndGlyphs" fill="#161616" stroke="#161616" stroke-width="0.18">EA</text>
<text transform="translate(266.29 595.75) rotate(-45)" font-size="8.85" font-weight="bold" text-anchor="end" textLength="57.3" lengthAdjust="spacingAndGlyphs" fill="#161616" stroke="#161616" stroke-width="0.18">EA+ <tspan font-style="italic">MEG3</tspan> OE</text>
<path d="M176.6 428V421.7H235.2V428" stroke="#161616" stroke-width="1.12" fill="none"/>
<text x="205.9" y="415.95" font-size="7.37" text-anchor="middle" textLength="36.67" fill="#333" stroke="#333" stroke-width="0.12">P = 0.0221</text>
<path d="M176.6 451.5V444.8H205.9V451.5" stroke="#161616" stroke-width="1.12" fill="none"/>
<text x="191.25" y="438.75" font-size="7.37" text-anchor="middle" textLength="36.67" fill="#333" stroke="#333" stroke-width="0.12">P = 0.0260</text>
<path d="M147.3 475.3V468.3H176.6V475.3" stroke="#161616" stroke-width="1.12" fill="none"/>
<text x="161.95" y="462.25" font-size="7.37" text-anchor="middle" textLength="36.67" fill="#333" stroke="#333" stroke-width="0.12">P &lt; 0.0001</text>
<path d="M235.2 475.3V468.3H264.5V475.3" stroke="#161616" stroke-width="1.12" fill="none"/>
<text x="249.85" y="462.25" font-size="7.37" text-anchor="middle" textLength="36.67" fill="#333" stroke="#333" stroke-width="0.12">P = 0.0188</text>
</g>
<g id="panel-d">
<text transform="translate(390.7 390) scale(0.88 1)" font-size="20" font-weight="bold" fill="#0c0c0c" stroke="#0c0c0c" stroke-width="0.3">d</text>
<path d="M497 496.4V491.5M491.85 491.5H502.15" stroke="#161616" stroke-width="1.4" fill="none"/>
<rect x="486.76" y="496.4" width="20.48" height="77.9" fill="#ffffff" stroke="#161616" stroke-width="1.4"/>
<path d="M529.9 507.3V503.4M524.75 503.4H535.05" stroke="#161616" stroke-width="1.4" fill="none"/>
<rect x="519.66" y="507.3" width="20.48" height="67" fill="#dedede" stroke="#161616" stroke-width="1.4"/>
<path d="M562.8 472.6V465.9M557.65 465.9H567.95" stroke="#161616" stroke-width="1.4" fill="none"/>
<rect x="552.56" y="472.6" width="20.48" height="101.7" fill="#737373" stroke="#161616" stroke-width="1.4"/>
<path d="M595.7 491.9V485.9M590.55 485.9H600.85" stroke="#161616" stroke-width="1.4" fill="none"/>
<rect x="585.46" y="491.9" width="20.48" height="82.4" fill="#b2b2b2" stroke="#161616" stroke-width="1.4"/>
<path d="M628.6 498.9V492.2M623.45 492.2H633.75" stroke="#161616" stroke-width="1.4" fill="none"/>
<rect x="618.36" y="498.9" width="20.48" height="75.4" fill="#fff"/>
<path d="M618.36 573.74L619.01 574.3M618.36 570.83L622.37 574.3M618.36 567.92L625.73 574.3M618.36 565.01L629.08 574.3M618.36 562.1L632.44 574.3M618.36 559.19L635.8 574.3M618.36 556.28L638.84 574.03M618.36 553.37L638.84 571.12M618.36 550.46L638.84 568.21M618.36 547.55L638.84 565.3M618.36 544.64L638.84 562.39M618.36 541.73L638.84 559.48M618.36 538.82L638.84 556.57M618.36 535.91L638.84 553.66M618.36 533L638.84 550.75M618.36 530.09L638.84 547.84M618.36 527.18L638.84 544.93M618.36 524.27L638.84 542.02M618.36 521.36L638.84 539.11M618.36 518.45L638.84 536.2M618.36 515.55L638.84 533.29M618.36 512.64L638.84 530.39M618.36 509.73L638.84 527.48M618.36 506.82L638.84 524.57M618.36 503.91L638.84 521.66M618.36 501L638.84 518.75M619.3 498.9L638.84 515.84M622.65 498.9L638.84 512.93M626.01 498.9L638.84 510.02M629.37 498.9L638.84 507.11M632.73 498.9L638.84 504.2M636.08 498.9L638.84 501.29" stroke="#2a2a2a" stroke-width="0.87" fill="none"/>
<rect x="618.36" y="498.9" width="20.48" height="75.4" fill="none" stroke="#161616" stroke-width="1.4"/>
<path d="M661.5 487V481.4M656.35 481.4H666.65" stroke="#161616" stroke-width="1.4" fill="none"/>
<rect x="651.26" y="487" width="20.48" height="87.3" fill="#fff"/>
<path d="M654.69 487.7h2.73v2.73h-2.73zM660.14 487.7h2.73v2.73h-2.73zM665.59 487.7h2.73v2.73h-2.73zM671.04 487.7h0.7v2.73h-0.7zM651.96 490.43h2.73v2.73h-2.73zM657.41 490.43h2.73v2.73h-2.73zM662.86 490.43h2.73v2.73h-2.73zM668.31 490.43h2.73v2.73h-2.73zM654.69 493.15h2.73v2.73h-2.73zM660.14 493.15h2.73v2.73h-2.73zM665.59 493.15h2.73v2.73h-2.73zM671.04 493.15h0.7v2.73h-0.7zM651.96 495.88h2.73v2.73h-2.73zM657.41 495.88h2.73v2.73h-2.73zM662.86 495.88h2.73v2.73h-2.73zM668.31 495.88h2.73v2.73h-2.73zM654.69 498.6h2.73v2.73h-2.73zM660.14 498.6h2.73v2.73h-2.73zM665.59 498.6h2.73v2.73h-2.73zM671.04 498.6h0.7v2.73h-0.7zM651.96 501.33h2.73v2.73h-2.73zM657.41 501.33h2.73v2.73h-2.73zM662.86 501.33h2.73v2.73h-2.73zM668.31 501.33h2.73v2.73h-2.73zM654.69 504.05h2.73v2.73h-2.73zM660.14 504.05h2.73v2.73h-2.73zM665.59 504.05h2.73v2.73h-2.73zM671.04 504.05h0.7v2.73h-0.7zM651.96 506.78h2.73v2.73h-2.73zM657.41 506.78h2.73v2.73h-2.73zM662.86 506.78h2.73v2.73h-2.73zM668.31 506.78h2.73v2.73h-2.73zM654.69 509.51h2.73v2.73h-2.73zM660.14 509.51h2.73v2.73h-2.73zM665.59 509.51h2.73v2.73h-2.73zM671.04 509.51h0.7v2.73h-0.7zM651.96 512.23h2.73v2.73h-2.73zM657.41 512.23h2.73v2.73h-2.73zM662.86 512.23h2.73v2.73h-2.73zM668.31 512.23h2.73v2.73h-2.73zM654.69 514.96h2.73v2.73h-2.73zM660.14 514.96h2.73v2.73h-2.73zM665.59 514.96h2.73v2.73h-2.73zM671.04 514.96h0.7v2.73h-0.7zM651.96 517.68h2.73v2.73h-2.73zM657.41 517.68h2.73v2.73h-2.73zM662.86 517.68h2.73v2.73h-2.73zM668.31 517.68h2.73v2.73h-2.73zM654.69 520.41h2.73v2.73h-2.73zM660.14 520.41h2.73v2.73h-2.73zM665.59 520.41h2.73v2.73h-2.73zM671.04 520.41h0.7v2.73h-0.7zM651.96 523.14h2.73v2.73h-2.73zM657.41 523.14h2.73v2.73h-2.73zM662.86 523.14h2.73v2.73h-2.73zM668.31 523.14h2.73v2.73h-2.73zM654.69 525.86h2.73v2.73h-2.73zM660.14 525.86h2.73v2.73h-2.73zM665.59 525.86h2.73v2.73h-2.73zM671.04 525.86h0.7v2.73h-0.7zM651.96 528.59h2.73v2.73h-2.73zM657.41 528.59h2.73v2.73h-2.73zM662.86 528.59h2.73v2.73h-2.73zM668.31 528.59h2.73v2.73h-2.73zM654.69 531.31h2.73v2.73h-2.73zM660.14 531.31h2.73v2.73h-2.73zM665.59 531.31h2.73v2.73h-2.73zM671.04 531.31h0.7v2.73h-0.7zM651.96 534.04h2.73v2.73h-2.73zM657.41 534.04h2.73v2.73h-2.73zM662.86 534.04h2.73v2.73h-2.73zM668.31 534.04h2.73v2.73h-2.73zM654.69 536.76h2.73v2.73h-2.73zM660.14 536.76h2.73v2.73h-2.73zM665.59 536.76h2.73v2.73h-2.73zM671.04 536.76h0.7v2.73h-0.7zM651.96 539.49h2.73v2.73h-2.73zM657.41 539.49h2.73v2.73h-2.73zM662.86 539.49h2.73v2.73h-2.73zM668.31 539.49h2.73v2.73h-2.73zM654.69 542.22h2.73v2.73h-2.73zM660.14 542.22h2.73v2.73h-2.73zM665.59 542.22h2.73v2.73h-2.73zM671.04 542.22h0.7v2.73h-0.7zM651.96 544.94h2.73v2.73h-2.73zM657.41 544.94h2.73v2.73h-2.73zM662.86 544.94h2.73v2.73h-2.73zM668.31 544.94h2.73v2.73h-2.73zM654.69 547.67h2.73v2.73h-2.73zM660.14 547.67h2.73v2.73h-2.73zM665.59 547.67h2.73v2.73h-2.73zM671.04 547.67h0.7v2.73h-0.7zM651.96 550.39h2.73v2.73h-2.73zM657.41 550.39h2.73v2.73h-2.73zM662.86 550.39h2.73v2.73h-2.73zM668.31 550.39h2.73v2.73h-2.73zM654.69 553.12h2.73v2.73h-2.73zM660.14 553.12h2.73v2.73h-2.73zM665.59 553.12h2.73v2.73h-2.73zM671.04 553.12h0.7v2.73h-0.7zM651.96 555.85h2.73v2.73h-2.73zM657.41 555.85h2.73v2.73h-2.73zM662.86 555.85h2.73v2.73h-2.73zM668.31 555.85h2.73v2.73h-2.73zM654.69 558.57h2.73v2.73h-2.73zM660.14 558.57h2.73v2.73h-2.73zM665.59 558.57h2.73v2.73h-2.73zM671.04 558.57h0.7v2.73h-0.7zM651.96 561.3h2.73v2.73h-2.73zM657.41 561.3h2.73v2.73h-2.73zM662.86 561.3h2.73v2.73h-2.73zM668.31 561.3h2.73v2.73h-2.73zM654.69 564.02h2.73v2.73h-2.73zM660.14 564.02h2.73v2.73h-2.73zM665.59 564.02h2.73v2.73h-2.73zM671.04 564.02h0.7v2.73h-0.7zM651.96 566.75h2.73v2.73h-2.73zM657.41 566.75h2.73v2.73h-2.73zM662.86 566.75h2.73v2.73h-2.73zM668.31 566.75h2.73v2.73h-2.73zM654.69 569.47h2.73v2.73h-2.73zM660.14 569.47h2.73v2.73h-2.73zM665.59 569.47h2.73v2.73h-2.73zM671.04 569.47h0.7v2.73h-0.7zM651.96 572.2h2.73v2.1h-2.73zM657.41 572.2h2.73v2.1h-2.73zM662.86 572.2h2.73v2.1h-2.73zM668.31 572.2h2.73v2.1h-2.73z" fill="#333"/>
<rect x="651.26" y="487" width="20.48" height="87.3" fill="none" stroke="#161616" stroke-width="1.4"/>
<path d="M475.5 435.2V574.3H686M475.5 574.3h-6.15M475.5 539.7h-6.15M475.5 505.1h-6.15M475.5 470.5h-6.15M475.5 435.9h-6.15M497 574.3v5.6M529.9 574.3v5.6M562.8 574.3v5.6M595.7 574.3v5.6M628.6 574.3v5.6M661.5 574.3v5.6" stroke="#161616" stroke-width="1.4" fill="none"/>
<text transform="translate(467.44 577.95) scale(0.96 1)" font-size="10.3" font-weight="bold" text-anchor="end" fill="#161616" stroke="#161616" stroke-width="0.15">0</text>
<text transform="translate(467.44 543.35) scale(0.96 1)" font-size="10.3" font-weight="bold" text-anchor="end" fill="#161616" stroke="#161616" stroke-width="0.15">50</text>
<text transform="translate(467.44 508.75) scale(0.96 1)" font-size="10.3" font-weight="bold" text-anchor="end" fill="#161616" stroke="#161616" stroke-width="0.15">100</text>
<text transform="translate(467.44 474.15) scale(0.96 1)" font-size="10.3" font-weight="bold" text-anchor="end" fill="#161616" stroke="#161616" stroke-width="0.15">150</text>
<text transform="translate(467.44 439.55) scale(0.96 1)" font-size="10.3" font-weight="bold" text-anchor="end" fill="#161616" stroke="#161616" stroke-width="0.15">200</text>
<text transform="translate(443.7 504.4) rotate(-90)" font-size="10.41" font-weight="bold" text-anchor="middle" textLength="115.6" lengthAdjust="spacingAndGlyphs" fill="#161616" stroke="#161616" stroke-width="0.3">TNF-α of serum(pg/mL)</text>
<text transform="translate(499.01 589.41) rotate(-45)" font-size="9.93" font-weight="bold" text-anchor="end" textLength="35.25" lengthAdjust="spacingAndGlyphs" fill="#161616" stroke="#161616" stroke-width="0.18">Control</text>
<text transform="translate(531.91 589.41) rotate(-45)" font-size="9.93" font-weight="bold" text-anchor="end" textLength="24.06" lengthAdjust="spacingAndGlyphs" fill="#161616" stroke="#161616" stroke-width="0.18">Sham</text>
<text transform="translate(564.81 589.41) rotate(-45)" font-size="9.93" font-weight="bold" text-anchor="end" textLength="25.18" lengthAdjust="spacingAndGlyphs" fill="#161616" stroke="#161616" stroke-width="0.18">CPSP</text>
<text transform="translate(597.71 589.41) rotate(-45)" font-size="9.93" font-weight="bold" text-anchor="end" textLength="77.21" lengthAdjust="spacingAndGlyphs" fill="#161616" stroke="#161616" stroke-width="0.18">CPSP+ <tspan font-style="italic">MEG3</tspan> KD</text>
<text transform="translate(630.61 589.41) rotate(-45)" font-size="9.93" font-weight="bold" text-anchor="end" textLength="11.19" lengthAdjust="spacingAndGlyphs" fill="#161616" stroke="#161616" stroke-width="0.18">EA</text>
<text transform="translate(663.51 589.41) rotate(-45)" font-size="9.93" font-weight="bold" text-anchor="end" textLength="64.35" lengthAdjust="spacingAndGlyphs" fill="#161616" stroke="#161616" stroke-width="0.18">EA+ <tspan font-style="italic">MEG3</tspan> OE</text>
<path d="M562.8 431.6V423.9H628.6V431.6" stroke="#161616" stroke-width="1.26" fill="none"/>
<text x="595.7" y="417.28" font-size="8.28" text-anchor="middle" textLength="41.18" fill="#333" stroke="#333" stroke-width="0.12">P = 0.0144</text>
<path d="M529.9 457.8V450.2H562.8V457.8" stroke="#161616" stroke-width="1.26" fill="none"/>
<text x="546.35" y="443.58" font-size="8.28" text-anchor="middle" textLength="41.18" fill="#333" stroke="#333" stroke-width="0.12">P = 0.0009</text>
</g>
<g id="panel-e">
<text transform="translate(3.3 693.3) scale(0.88 1)" font-size="20" font-weight="bold" fill="#0c0c0c" stroke="#0c0c0c" stroke-width="0.3">e</text>
<path d="M109.5 838.7V837.3M105.12 837.3H113.88" stroke="#161616" stroke-width="1.19" fill="none"/>
<rect x="100.79" y="838.7" width="17.43" height="75.3" fill="#ffffff" stroke="#161616" stroke-width="1.19"/>
<path d="M137.5 832.8V830.3M133.12 830.3H141.88" stroke="#161616" stroke-width="1.19" fill="none"/>
<rect x="128.79" y="832.8" width="17.43" height="81.2" fill="#dedede" stroke="#161616" stroke-width="1.19"/>
<path d="M165.5 812.1V806.5M161.12 806.5H169.88" stroke="#161616" stroke-width="1.19" fill="none"/>
<rect x="156.79" y="812.1" width="17.43" height="101.9" fill="#737373" stroke="#161616" stroke-width="1.19"/>
<path d="M193.5 834.5V830.3M189.12 830.3H197.88" stroke="#161616" stroke-width="1.19" fill="none"/>
<rect x="184.79" y="834.5" width="17.43" height="79.5" fill="#b2b2b2" stroke="#161616" stroke-width="1.19"/>
<path d="M221.5 833.8V831.4M217.12 831.4H225.88" stroke="#161616" stroke-width="1.19" fill="none"/>
<rect x="212.79" y="833.8" width="17.43" height="80.2" fill="#fff"/>
<path d="M212.79 912.41L214.62 914M212.79 909.94L217.47 914M212.79 907.46L220.33 914M212.79 904.99L223.19 914M212.79 902.51L226.04 914M212.79 900.03L228.9 914M212.79 897.56L230.21 912.66M212.79 895.08L230.21 910.19M212.79 892.6L230.21 907.71M212.79 890.13L230.21 905.23M212.79 887.65L230.21 902.76M212.79 885.18L230.21 900.28M212.79 882.7L230.21 897.81M212.79 880.22L230.21 895.33M212.79 877.75L230.21 892.85M212.79 875.27L230.21 890.38M212.79 872.79L230.21 887.9M212.79 870.32L230.21 885.42M212.79 867.84L230.21 882.95M212.79 865.37L230.21 880.47M212.79 862.89L230.21 878M212.79 860.41L230.21 875.52M212.79 857.94L230.21 873.04M212.79 855.46L230.21 870.57M212.79 852.99L230.21 868.09M212.79 850.51L230.21 865.61M212.79 848.03L230.21 863.14M212.79 845.56L230.21 860.66M212.79 843.08L230.21 858.19M212.79 840.6L230.21 855.71M212.79 838.13L230.21 853.23M212.79 835.65L230.21 850.76M213.51 833.8L230.21 848.28M216.36 833.8L230.21 845.81M219.22 833.8L230.21 843.33M222.08 833.8L230.21 840.85M224.93 833.8L230.21 838.38M227.79 833.8L230.21 835.9" stroke="#2a2a2a" stroke-width="0.74" fill="none"/>
<rect x="212.79" y="833.8" width="17.43" height="80.2" fill="none" stroke="#161616" stroke-width="1.19"/>
<path d="M249.5 817.7V812.8M245.12 812.8H253.88" stroke="#161616" stroke-width="1.19" fill="none"/>
<rect x="240.79" y="817.7" width="17.43" height="96.3" fill="#fff"/>
<path d="M243.7 818.3h2.32v2.32h-2.32zM248.34 818.3h2.32v2.32h-2.32zM252.98 818.3h2.32v2.32h-2.32zM257.62 818.3h0.6v2.32h-0.6zM241.38 820.62h2.32v2.32h-2.32zM246.02 820.62h2.32v2.32h-2.32zM250.66 820.62h2.32v2.32h-2.32zM255.3 820.62h2.32v2.32h-2.32zM243.7 822.93h2.32v2.32h-2.32zM248.34 822.93h2.32v2.32h-2.32zM252.98 822.93h2.32v2.32h-2.32zM257.62 822.93h0.6v2.32h-0.6zM241.38 825.25h2.32v2.32h-2.32zM246.02 825.25h2.32v2.32h-2.32zM250.66 825.25h2.32v2.32h-2.32zM255.3 825.25h2.32v2.32h-2.32zM243.7 827.57h2.32v2.32h-2.32zM248.34 827.57h2.32v2.32h-2.32zM252.98 827.57h2.32v2.32h-2.32zM257.62 827.57h0.6v2.32h-0.6zM241.38 829.89h2.32v2.32h-2.32zM246.02 829.89h2.32v2.32h-2.32zM250.66 829.89h2.32v2.32h-2.32zM255.3 829.89h2.32v2.32h-2.32zM243.7 832.21h2.32v2.32h-2.32zM248.34 832.21h2.32v2.32h-2.32zM252.98 832.21h2.32v2.32h-2.32zM257.62 832.21h0.6v2.32h-0.6zM241.38 834.53h2.32v2.32h-2.32zM246.02 834.53h2.32v2.32h-2.32zM250.66 834.53h2.32v2.32h-2.32zM255.3 834.53h2.32v2.32h-2.32zM243.7 836.85h2.32v2.32h-2.32zM248.34 836.85h2.32v2.32h-2.32zM252.98 836.85h2.32v2.32h-2.32zM257.62 836.85h0.6v2.32h-0.6zM241.38 839.17h2.32v2.32h-2.32zM246.02 839.17h2.32v2.32h-2.32zM250.66 839.17h2.32v2.32h-2.32zM255.3 839.17h2.32v2.32h-2.32zM243.7 841.49h2.32v2.32h-2.32zM248.34 841.49h2.32v2.32h-2.32zM252.98 841.49h2.32v2.32h-2.32zM257.62 841.49h0.6v2.32h-0.6zM241.38 843.81h2.32v2.32h-2.32zM246.02 843.81h2.32v2.32h-2.32zM250.66 843.81h2.32v2.32h-2.32zM255.3 843.81h2.32v2.32h-2.32zM243.7 846.13h2.32v2.32h-2.32zM248.34 846.13h2.32v2.32h-2.32zM252.98 846.13h2.32v2.32h-2.32zM257.62 846.13h0.6v2.32h-0.6zM241.38 848.45h2.32v2.32h-2.32zM246.02 848.45h2.32v2.32h-2.32zM250.66 848.45h2.32v2.32h-2.32zM255.3 848.45h2.32v2.32h-2.32zM243.7 850.77h2.32v2.32h-2.32zM248.34 850.77h2.32v2.32h-2.32zM252.98 850.77h2.32v2.32h-2.32zM257.62 850.77h0.6v2.32h-0.6zM241.38 853.09h2.32v2.32h-2.32zM246.02 853.09h2.32v2.32h-2.32zM250.66 853.09h2.32v2.32h-2.32zM255.3 853.09h2.32v2.32h-2.32zM243.7 855.41h2.32v2.32h-2.32zM248.34 855.41h2.32v2.32h-2.32zM252.98 855.41h2.32v2.32h-2.32zM257.62 855.41h0.6v2.32h-0.6zM241.38 857.73h2.32v2.32h-2.32zM246.02 857.73h2.32v2.32h-2.32zM250.66 857.73h2.32v2.32h-2.32zM255.3 857.73h2.32v2.32h-2.32zM243.7 860.05h2.32v2.32h-2.32zM248.34 860.05h2.32v2.32h-2.32zM252.98 860.05h2.32v2.32h-2.32zM257.62 860.05h0.6v2.32h-0.6zM241.38 862.37h2.32v2.32h-2.32zM246.02 862.37h2.32v2.32h-2.32zM250.66 862.37h2.32v2.32h-2.32zM255.3 862.37h2.32v2.32h-2.32zM243.7 864.69h2.32v2.32h-2.32zM248.34 864.69h2.32v2.32h-2.32zM252.98 864.69h2.32v2.32h-2.32zM257.62 864.69h0.6v2.32h-0.6zM241.38 867.01h2.32v2.32h-2.32zM246.02 867.01h2.32v2.32h-2.32zM250.66 867.01h2.32v2.32h-2.32zM255.3 867.01h2.32v2.32h-2.32zM243.7 869.33h2.32v2.32h-2.32zM248.34 869.33h2.32v2.32h-2.32zM252.98 869.33h2.32v2.32h-2.32zM257.62 869.33h0.6v2.32h-0.6zM241.38 871.65h2.32v2.32h-2.32zM246.02 871.65h2.32v2.32h-2.32zM250.66 871.65h2.32v2.32h-2.32zM255.3 871.65h2.32v2.32h-2.32zM243.7 873.97h2.32v2.32h-2.32zM248.34 873.97h2.32v2.32h-2.32zM252.98 873.97h2.32v2.32h-2.32zM257.62 873.97h0.6v2.32h-0.6zM241.38 876.29h2.32v2.32h-2.32zM246.02 876.29h2.32v2.32h-2.32zM250.66 876.29h2.32v2.32h-2.32zM255.3 876.29h2.32v2.32h-2.32zM243.7 878.61h2.32v2.32h-2.32zM248.34 878.61h2.32v2.32h-2.32zM252.98 878.61h2.32v2.32h-2.32zM257.62 878.61h0.6v2.32h-0.6zM241.38 880.93h2.32v2.32h-2.32zM246.02 880.93h2.32v2.32h-2.32zM250.66 880.93h2.32v2.32h-2.32zM255.3 880.93h2.32v2.32h-2.32zM243.7 883.25h2.32v2.32h-2.32zM248.34 883.25h2.32v2.32h-2.32zM252.98 883.25h2.32v2.32h-2.32zM257.62 883.25h0.6v2.32h-0.6zM241.38 885.57h2.32v2.32h-2.32zM246.02 885.57h2.32v2.32h-2.32zM250.66 885.57h2.32v2.32h-2.32zM255.3 885.57h2.32v2.32h-2.32zM243.7 887.89h2.32v2.32h-2.32zM248.34 887.89h2.32v2.32h-2.32zM252.98 887.89h2.32v2.32h-2.32zM257.62 887.89h0.6v2.32h-0.6zM241.38 890.21h2.32v2.32h-2.32zM246.02 890.21h2.32v2.32h-2.32zM250.66 890.21h2.32v2.32h-2.32zM255.3 890.21h2.32v2.32h-2.32zM243.7 892.53h2.32v2.32h-2.32zM248.34 892.53h2.32v2.32h-2.32zM252.98 892.53h2.32v2.32h-2.32zM257.62 892.53h0.6v2.32h-0.6zM241.38 894.85h2.32v2.32h-2.32zM246.02 894.85h2.32v2.32h-2.32zM250.66 894.85h2.32v2.32h-2.32zM255.3 894.85h2.32v2.32h-2.32zM243.7 897.17h2.32v2.32h-2.32zM248.34 897.17h2.32v2.32h-2.32zM252.98 897.17h2.32v2.32h-2.32zM257.62 897.17h0.6v2.32h-0.6zM241.38 899.49h2.32v2.32h-2.32zM246.02 899.49h2.32v2.32h-2.32zM250.66 899.49h2.32v2.32h-2.32zM255.3 899.49h2.32v2.32h-2.32zM243.7 901.81h2.32v2.32h-2.32zM248.34 901.81h2.32v2.32h-2.32zM252.98 901.81h2.32v2.32h-2.32zM257.62 901.81h0.6v2.32h-0.6zM241.38 904.13h2.32v2.32h-2.32zM246.02 904.13h2.32v2.32h-2.32zM250.66 904.13h2.32v2.32h-2.32zM255.3 904.13h2.32v2.32h-2.32zM243.7 906.45h2.32v2.32h-2.32zM248.34 906.45h2.32v2.32h-2.32zM252.98 906.45h2.32v2.32h-2.32zM257.62 906.45h0.6v2.32h-0.6zM241.38 908.77h2.32v2.32h-2.32zM246.02 908.77h2.32v2.32h-2.32zM250.66 908.77h2.32v2.32h-2.32zM255.3 908.77h2.32v2.32h-2.32zM243.7 911.09h2.32v2.32h-2.32zM248.34 911.09h2.32v2.32h-2.32zM252.98 911.09h2.32v2.32h-2.32zM257.62 911.09h0.6v2.32h-0.6zM241.38 913.41h2.32v0.59h-2.32zM246.02 913.41h2.32v0.59h-2.32zM250.66 913.41h2.32v0.59h-2.32zM255.3 913.41h2.32v0.59h-2.32z" fill="#333"/>
<rect x="240.79" y="817.7" width="17.43" height="96.3" fill="none" stroke="#161616" stroke-width="1.19"/>
<path d="M91.1 796.2V914H269M91.1 914h-5.24M91.1 874.93h-5.24M91.1 835.87h-5.24M91.1 796.8h-5.24M109.5 914v4.76M137.5 914v4.76M165.5 914v4.76M193.5 914v4.76M221.5 914v4.76M249.5 914v4.76" stroke="#161616" stroke-width="1.19" fill="none"/>
<text transform="translate(84.24 917.11) scale(0.96 1)" font-size="8.76" font-weight="bold" text-anchor="end" fill="#161616" stroke="#161616" stroke-width="0.15">0</text>
<text transform="translate(84.24 878.04) scale(0.96 1)" font-size="8.76" font-weight="bold" text-anchor="end" fill="#161616" stroke="#161616" stroke-width="0.15">5</text>
<text transform="translate(84.24 838.98) scale(0.96 1)" font-size="8.76" font-weight="bold" text-anchor="end" fill="#161616" stroke="#161616" stroke-width="0.15">10</text>
<text transform="translate(84.24 799.91) scale(0.96 1)" font-size="8.76" font-weight="bold" text-anchor="end" fill="#161616" stroke="#161616" stroke-width="0.15">15</text>
<text transform="translate(69.2 855) rotate(-90)" font-size="8.86" font-weight="bold" text-anchor="middle" textLength="90.4" lengthAdjust="spacingAndGlyphs" fill="#161616" stroke="#161616" stroke-width="0.3">IL-1β of brain(pg/mg)</text>
<text transform="translate(111.21 926.86) rotate(-45)" font-size="8.46" font-weight="bold" text-anchor="end" textLength="30" lengthAdjust="spacingAndGlyphs" fill="#161616" stroke="#161616" stroke-width="0.18">Control</text>
<text transform="translate(139.21 926.86) rotate(-45)" font-size="8.46" font-weight="bold" text-anchor="end" textLength="20.48" lengthAdjust="spacingAndGlyphs" fill="#161616" stroke="#161616" stroke-width="0.18">Sham</text>
<text transform="translate(167.21 926.86) rotate(-45)" font-size="8.46" font-weight="bold" text-anchor="end" textLength="21.43" lengthAdjust="spacingAndGlyphs" fill="#161616" stroke="#161616" stroke-width="0.18">CPSP</text>
<text transform="translate(195.21 926.86) rotate(-45)" font-size="8.46" font-weight="bold" text-anchor="end" textLength="65.71" lengthAdjust="spacingAndGlyphs" fill="#161616" stroke="#161616" stroke-width="0.18">CPSP+ <tspan font-style="italic">MEG3</tspan> KD</text>
<text transform="translate(223.21 926.86) rotate(-45)" font-size="8.46" font-weight="bold" text-anchor="end" textLength="9.52" lengthAdjust="spacingAndGlyphs" fill="#161616" stroke="#161616" stroke-width="0.18">EA</text>
<text transform="translate(251.21 926.86) rotate(-45)" font-size="8.46" font-weight="bold" text-anchor="end" textLength="54.76" lengthAdjust="spacingAndGlyphs" fill="#161616" stroke="#161616" stroke-width="0.18">EA+ <tspan font-style="italic">MEG3</tspan> OE</text>
<path d="M165.5 753.8V747.8H221.5V753.8" stroke="#161616" stroke-width="1.07" fill="none"/>
<text x="193.5" y="742.34" font-size="7.05" text-anchor="middle" textLength="35.05" fill="#333" stroke="#333" stroke-width="0.12">P = 0.0002</text>
<path d="M165.5 776.6V770.3H193.5V776.6" stroke="#161616" stroke-width="1.07" fill="none"/>
<text x="179.5" y="764.74" font-size="7.05" text-anchor="middle" textLength="35.05" fill="#333" stroke="#333" stroke-width="0.12">P = 0.0002</text>
<path d="M137.5 799.3V792.7H165.5V799.3" stroke="#161616" stroke-width="1.07" fill="none"/>
<text x="151.5" y="786.84" font-size="7.05" text-anchor="middle" textLength="35.05" fill="#333" stroke="#333" stroke-width="0.12">P = 0.0005</text>
<path d="M221.5 799.3V792.7H249.5V799.3" stroke="#161616" stroke-width="1.07" fill="none"/>
<text x="235.5" y="786.84" font-size="7.05" text-anchor="middle" textLength="35.05" fill="#333" stroke="#333" stroke-width="0.12">P = 0.0067</text>
</g>
<g id="panel-f">
<text transform="translate(390.7 693) scale(0.88 1)" font-size="20" font-weight="bold" fill="#0c0c0c" stroke="#0c0c0c" stroke-width="0.3">f</text>
<path d="M479.9 853.6V851.5M475.16 851.5H484.64" stroke="#161616" stroke-width="1.29" fill="none"/>
<rect x="470.48" y="853.6" width="18.85" height="54.5" fill="#ffffff" stroke="#161616" stroke-width="1.29"/>
<path d="M510.18 846.6V842.7M505.44 842.7H514.92" stroke="#161616" stroke-width="1.29" fill="none"/>
<rect x="500.76" y="846.6" width="18.85" height="61.5" fill="#dedede" stroke="#161616" stroke-width="1.29"/>
<path d="M540.46 817.5V813.3M535.72 813.3H545.2" stroke="#161616" stroke-width="1.29" fill="none"/>
<rect x="531.04" y="817.5" width="18.85" height="90.6" fill="#737373" stroke="#161616" stroke-width="1.29"/>
<path d="M570.74 842V838.2M566 838.2H575.48" stroke="#161616" stroke-width="1.29" fill="none"/>
<rect x="561.32" y="842" width="18.85" height="66.1" fill="#b2b2b2" stroke="#161616" stroke-width="1.29"/>
<path d="M601.02 845.5V840.3M596.28 840.3H605.76" stroke="#161616" stroke-width="1.29" fill="none"/>
<rect x="591.6" y="845.5" width="18.85" height="62.6" fill="#fff"/>
<path d="M591.6 906.36L593.61 908.1M591.6 903.68L596.7 908.1M591.6 901L599.79 908.1M591.6 898.32L602.88 908.1M591.6 895.64L605.97 908.1M591.6 892.97L609.06 908.1M591.6 890.29L610.44 906.62M591.6 887.61L610.44 903.95M591.6 884.93L610.44 901.27M591.6 882.26L610.44 898.59M591.6 879.58L610.44 895.91M591.6 876.9L610.44 893.24M591.6 874.22L610.44 890.56M591.6 871.54L610.44 887.88M591.6 868.87L610.44 885.2M591.6 866.19L610.44 882.52M591.6 863.51L610.44 879.85M591.6 860.83L610.44 877.17M591.6 858.16L610.44 874.49M591.6 855.48L610.44 871.81M591.6 852.8L610.44 869.14M591.6 850.12L610.44 866.46M591.6 847.44L610.44 863.78M592.44 845.5L610.44 861.1M595.53 845.5L610.44 858.42M598.62 845.5L610.44 855.75M601.71 845.5L610.44 853.07M604.8 845.5L610.44 850.39M607.89 845.5L610.44 847.71" stroke="#2a2a2a" stroke-width="0.8" fill="none"/>
<rect x="591.6" y="845.5" width="18.85" height="62.6" fill="none" stroke="#161616" stroke-width="1.29"/>
<path d="M631.3 828.7V822.8M626.56 822.8H636.04" stroke="#161616" stroke-width="1.29" fill="none"/>
<rect x="621.88" y="828.7" width="18.85" height="79.4" fill="#fff"/>
<path d="M625.03 829.34h2.51v2.51h-2.51zM630.05 829.34h2.51v2.51h-2.51zM635.06 829.34h2.51v2.51h-2.51zM640.08 829.34h0.64v2.51h-0.64zM622.52 831.85h2.51v2.51h-2.51zM627.54 831.85h2.51v2.51h-2.51zM632.55 831.85h2.51v2.51h-2.51zM637.57 831.85h2.51v2.51h-2.51zM625.03 834.36h2.51v2.51h-2.51zM630.05 834.36h2.51v2.51h-2.51zM635.06 834.36h2.51v2.51h-2.51zM640.08 834.36h0.64v2.51h-0.64zM622.52 836.87h2.51v2.51h-2.51zM627.54 836.87h2.51v2.51h-2.51zM632.55 836.87h2.51v2.51h-2.51zM637.57 836.87h2.51v2.51h-2.51zM625.03 839.38h2.51v2.51h-2.51zM630.05 839.38h2.51v2.51h-2.51zM635.06 839.38h2.51v2.51h-2.51zM640.08 839.38h0.64v2.51h-0.64zM622.52 841.89h2.51v2.51h-2.51zM627.54 841.89h2.51v2.51h-2.51zM632.55 841.89h2.51v2.51h-2.51zM637.57 841.89h2.51v2.51h-2.51zM625.03 844.4h2.51v2.51h-2.51zM630.05 844.4h2.51v2.51h-2.51zM635.06 844.4h2.51v2.51h-2.51zM640.08 844.4h0.64v2.51h-0.64zM622.52 846.91h2.51v2.51h-2.51zM627.54 846.91h2.51v2.51h-2.51zM632.55 846.91h2.51v2.51h-2.51zM637.57 846.91h2.51v2.51h-2.51zM625.03 849.41h2.51v2.51h-2.51zM630.05 849.41h2.51v2.51h-2.51zM635.06 849.41h2.51v2.51h-2.51zM640.08 849.41h0.64v2.51h-0.64zM622.52 851.92h2.51v2.51h-2.51zM627.54 851.92h2.51v2.51h-2.51zM632.55 851.92h2.51v2.51h-2.51zM637.57 851.92h2.51v2.51h-2.51zM625.03 854.43h2.51v2.51h-2.51zM630.05 854.43h2.51v2.51h-2.51zM635.06 854.43h2.51v2.51h-2.51zM640.08 854.43h0.64v2.51h-0.64zM622.52 856.94h2.51v2.51h-2.51zM627.54 856.94h2.51v2.51h-2.51zM632.55 856.94h2.51v2.51h-2.51zM637.57 856.94h2.51v2.51h-2.51zM625.03 859.45h2.51v2.51h-2.51zM630.05 859.45h2.51v2.51h-2.51zM635.06 859.45h2.51v2.51h-2.51zM640.08 859.45h0.64v2.51h-0.64zM622.52 861.96h2.51v2.51h-2.51zM627.54 861.96h2.51v2.51h-2.51zM632.55 861.96h2.51v2.51h-2.51zM637.57 861.96h2.51v2.51h-2.51zM625.03 864.47h2.51v2.51h-2.51zM630.05 864.47h2.51v2.51h-2.51zM635.06 864.47h2.51v2.51h-2.51zM640.08 864.47h0.64v2.51h-0.64zM622.52 866.98h2.51v2.51h-2.51zM627.54 866.98h2.51v2.51h-2.51zM632.55 866.98h2.51v2.51h-2.51zM637.57 866.98h2.51v2.51h-2.51zM625.03 869.48h2.51v2.51h-2.51zM630.05 869.48h2.51v2.51h-2.51zM635.06 869.48h2.51v2.51h-2.51zM640.08 869.48h0.64v2.51h-0.64zM622.52 871.99h2.51v2.51h-2.51zM627.54 871.99h2.51v2.51h-2.51zM632.55 871.99h2.51v2.51h-2.51zM637.57 871.99h2.51v2.51h-2.51zM625.03 874.5h2.51v2.51h-2.51zM630.05 874.5h2.51v2.51h-2.51zM635.06 874.5h2.51v2.51h-2.51zM640.08 874.5h0.64v2.51h-0.64zM622.52 877.01h2.51v2.51h-2.51zM627.54 877.01h2.51v2.51h-2.51zM632.55 877.01h2.51v2.51h-2.51zM637.57 877.01h2.51v2.51h-2.51zM625.03 879.52h2.51v2.51h-2.51zM630.05 879.52h2.51v2.51h-2.51zM635.06 879.52h2.51v2.51h-2.51zM640.08 879.52h0.64v2.51h-0.64zM622.52 882.03h2.51v2.51h-2.51zM627.54 882.03h2.51v2.51h-2.51zM632.55 882.03h2.51v2.51h-2.51zM637.57 882.03h2.51v2.51h-2.51zM625.03 884.54h2.51v2.51h-2.51zM630.05 884.54h2.51v2.51h-2.51zM635.06 884.54h2.51v2.51h-2.51zM640.08 884.54h0.64v2.51h-0.64zM622.52 887.05h2.51v2.51h-2.51zM627.54 887.05h2.51v2.51h-2.51zM632.55 887.05h2.51v2.51h-2.51zM637.57 887.05h2.51v2.51h-2.51zM625.03 889.55h2.51v2.51h-2.51zM630.05 889.55h2.51v2.51h-2.51zM635.06 889.55h2.51v2.51h-2.51zM640.08 889.55h0.64v2.51h-0.64zM622.52 892.06h2.51v2.51h-2.51zM627.54 892.06h2.51v2.51h-2.51zM632.55 892.06h2.51v2.51h-2.51zM637.57 892.06h2.51v2.51h-2.51zM625.03 894.57h2.51v2.51h-2.51zM630.05 894.57h2.51v2.51h-2.51zM635.06 894.57h2.51v2.51h-2.51zM640.08 894.57h0.64v2.51h-0.64zM622.52 897.08h2.51v2.51h-2.51zM627.54 897.08h2.51v2.51h-2.51zM632.55 897.08h2.51v2.51h-2.51zM637.57 897.08h2.51v2.51h-2.51zM625.03 899.59h2.51v2.51h-2.51zM630.05 899.59h2.51v2.51h-2.51zM635.06 899.59h2.51v2.51h-2.51zM640.08 899.59h0.64v2.51h-0.64zM622.52 902.1h2.51v2.51h-2.51zM627.54 902.1h2.51v2.51h-2.51zM632.55 902.1h2.51v2.51h-2.51zM637.57 902.1h2.51v2.51h-2.51zM625.03 904.61h2.51v2.51h-2.51zM630.05 904.61h2.51v2.51h-2.51zM635.06 904.61h2.51v2.51h-2.51zM640.08 904.61h0.64v2.51h-0.64zM622.52 907.12h2.51v0.98h-2.51zM627.54 907.12h2.51v0.98h-2.51zM632.55 907.12h2.51v0.98h-2.51zM637.57 907.12h2.51v0.98h-2.51z" fill="#333"/>
<rect x="621.88" y="828.7" width="18.85" height="79.4" fill="none" stroke="#161616" stroke-width="1.29"/>
<path d="M460.1 780.16V908.1H652M460.1 908.1h-5.66M460.1 876.27h-5.66M460.1 844.45h-5.66M460.1 812.62h-5.66M460.1 780.8h-5.66M479.9 908.1v5.15M510.18 908.1v5.15M540.46 908.1v5.15M570.74 908.1v5.15M601.02 908.1v5.15M631.3 908.1v5.15" stroke="#161616" stroke-width="1.29" fill="none"/>
<text transform="translate(452.68 911.46) scale(0.96 1)" font-size="9.48" font-weight="bold" text-anchor="end" fill="#161616" stroke="#161616" stroke-width="0.15">0</text>
<text transform="translate(452.68 879.64) scale(0.96 1)" font-size="9.48" font-weight="bold" text-anchor="end" fill="#161616" stroke="#161616" stroke-width="0.15">5</text>
<text transform="translate(452.68 847.81) scale(0.96 1)" font-size="9.48" font-weight="bold" text-anchor="end" fill="#161616" stroke="#161616" stroke-width="0.15">10</text>
<text transform="translate(452.68 815.99) scale(0.96 1)" font-size="9.48" font-weight="bold" text-anchor="end" fill="#161616" stroke="#161616" stroke-width="0.15">15</text>
<text transform="translate(452.68 784.16) scale(0.96 1)" font-size="9.48" font-weight="bold" text-anchor="end" fill="#161616" stroke="#161616" stroke-width="0.15">20</text>
<text transform="translate(437.2 844.4) rotate(-90)" font-size="9.58" font-weight="bold" text-anchor="middle" textLength="100.6" lengthAdjust="spacingAndGlyphs" fill="#161616" stroke="#161616" stroke-width="0.3">IL-1β of serum(pg/mL)</text>
<text transform="translate(481.75 922) rotate(-45)" font-size="9.14" font-weight="bold" text-anchor="end" textLength="32.44" lengthAdjust="spacingAndGlyphs" fill="#161616" stroke="#161616" stroke-width="0.18">Control</text>
<text transform="translate(512.03 922) rotate(-45)" font-size="9.14" font-weight="bold" text-anchor="end" textLength="22.14" lengthAdjust="spacingAndGlyphs" fill="#161616" stroke="#161616" stroke-width="0.18">Sham</text>
<text transform="translate(542.31 922) rotate(-45)" font-size="9.14" font-weight="bold" text-anchor="end" textLength="23.17" lengthAdjust="spacingAndGlyphs" fill="#161616" stroke="#161616" stroke-width="0.18">CPSP</text>
<text transform="translate(572.59 922) rotate(-45)" font-size="9.14" font-weight="bold" text-anchor="end" textLength="71.07" lengthAdjust="spacingAndGlyphs" fill="#161616" stroke="#161616" stroke-width="0.18">CPSP+ <tspan font-style="italic">MEG3</tspan> KD</text>
<text transform="translate(602.87 922) rotate(-45)" font-size="9.14" font-weight="bold" text-anchor="end" textLength="10.3" lengthAdjust="spacingAndGlyphs" fill="#161616" stroke="#161616" stroke-width="0.18">EA</text>
<text transform="translate(633.15 922) rotate(-45)" font-size="9.14" font-weight="bold" text-anchor="end" textLength="59.22" lengthAdjust="spacingAndGlyphs" fill="#161616" stroke="#161616" stroke-width="0.18">EA+ <tspan font-style="italic">MEG3</tspan> OE</text>
<path d="M540.46 756.6V749.6H601.02V756.6" stroke="#161616" stroke-width="1.16" fill="none"/>
<text x="570.74" y="743.54" font-size="7.62" text-anchor="middle" textLength="37.9" fill="#333" stroke="#333" stroke-width="0.12">P &lt; 0.0001</text>
<path d="M540.46 780.4V773.4H570.74V780.4" stroke="#161616" stroke-width="1.16" fill="none"/>
<text x="555.6" y="767.74" font-size="7.62" text-anchor="middle" textLength="37.9" fill="#333" stroke="#333" stroke-width="0.12">P = 0.0007</text>
<path d="M510.18 804.6V797.6H540.46V804.6" stroke="#161616" stroke-width="1.16" fill="none"/>
<text x="525.32" y="792.24" font-size="7.62" text-anchor="middle" textLength="37.9" fill="#333" stroke="#333" stroke-width="0.12">P &lt; 0.0001</text>
<path d="M601.02 804.6V797.6H631.3V804.6" stroke="#161616" stroke-width="1.16" fill="none"/>
<text x="616.16" y="792.24" font-size="7.62" text-anchor="middle" textLength="37.9" fill="#333" stroke="#333" stroke-width="0.12">P = 0.0262</text>
</g>
<g id="panel-g">
<text transform="translate(3.3 997) scale(0.88 1)" font-size="20" font-weight="bold" fill="#0c0c0c" stroke="#0c0c0c" stroke-width="0.3">g</text>
<path d="M111.6 1151.4V1147.9M106.96 1147.9H116.24" stroke="#161616" stroke-width="1.26" fill="none"/>
<rect x="102.37" y="1151.4" width="18.46" height="68.3" fill="#ffffff" stroke="#161616" stroke-width="1.26"/>
<path d="M141.25 1152.8V1150M136.61 1150H145.89" stroke="#161616" stroke-width="1.26" fill="none"/>
<rect x="132.02" y="1152.8" width="18.46" height="66.9" fill="#dedede" stroke="#161616" stroke-width="1.26"/>
<path d="M170.9 1124.8V1121M166.26 1121H175.54" stroke="#161616" stroke-width="1.26" fill="none"/>
<rect x="161.67" y="1124.8" width="18.46" height="94.9" fill="#737373" stroke="#161616" stroke-width="1.26"/>
<path d="M200.55 1145.8V1142M195.91 1142H205.19" stroke="#161616" stroke-width="1.26" fill="none"/>
<rect x="191.32" y="1145.8" width="18.46" height="73.9" fill="#b2b2b2" stroke="#161616" stroke-width="1.26"/>
<path d="M230.2 1146.9V1143M225.56 1143H234.84" stroke="#161616" stroke-width="1.26" fill="none"/>
<rect x="220.97" y="1146.9" width="18.46" height="72.8" fill="#fff"/>
<path d="M220.97 1219.38L221.35 1219.7M220.97 1216.75L224.37 1219.7M220.97 1214.13L227.4 1219.7M220.97 1211.51L230.42 1219.7M220.97 1208.89L233.45 1219.7M220.97 1206.26L236.47 1219.7M220.97 1203.64L239.43 1219.64M220.97 1201.02L239.43 1217.02M220.97 1198.4L239.43 1214.39M220.97 1195.78L239.43 1211.77M220.97 1193.15L239.43 1209.15M220.97 1190.53L239.43 1206.53M220.97 1187.91L239.43 1203.91M220.97 1185.29L239.43 1201.28M220.97 1182.67L239.43 1198.66M220.97 1180.04L239.43 1196.04M220.97 1177.42L239.43 1193.42M220.97 1174.8L239.43 1190.8M220.97 1172.18L239.43 1188.17M220.97 1169.56L239.43 1185.55M220.97 1166.93L239.43 1182.93M220.97 1164.31L239.43 1180.31M220.97 1161.69L239.43 1177.68M220.97 1159.07L239.43 1175.06M220.97 1156.44L239.43 1172.44M220.97 1153.82L239.43 1169.82M220.97 1151.2L239.43 1167.2M220.97 1148.58L239.43 1164.57M222.06 1146.9L239.43 1161.95M225.09 1146.9L239.43 1159.33M228.11 1146.9L239.43 1156.71M231.14 1146.9L239.43 1154.09M234.16 1146.9L239.43 1151.46M237.19 1146.9L239.43 1148.84" stroke="#2a2a2a" stroke-width="0.79" fill="none"/>
<rect x="220.97" y="1146.9" width="18.46" height="72.8" fill="none" stroke="#161616" stroke-width="1.26"/>
<path d="M259.85 1132.9V1131.1M255.21 1131.1H264.49" stroke="#161616" stroke-width="1.26" fill="none"/>
<rect x="250.62" y="1132.9" width="18.46" height="86.8" fill="#fff"/>
<path d="M253.71 1133.53h2.46v2.46h-2.46zM258.62 1133.53h2.46v2.46h-2.46zM263.53 1133.53h2.46v2.46h-2.46zM268.45 1133.53h0.63v2.46h-0.63zM251.25 1135.99h2.46v2.46h-2.46zM256.17 1135.99h2.46v2.46h-2.46zM261.08 1135.99h2.46v2.46h-2.46zM265.99 1135.99h2.46v2.46h-2.46zM253.71 1138.44h2.46v2.46h-2.46zM258.62 1138.44h2.46v2.46h-2.46zM263.53 1138.44h2.46v2.46h-2.46zM268.45 1138.44h0.63v2.46h-0.63zM251.25 1140.9h2.46v2.46h-2.46zM256.17 1140.9h2.46v2.46h-2.46zM261.08 1140.9h2.46v2.46h-2.46zM265.99 1140.9h2.46v2.46h-2.46zM253.71 1143.36h2.46v2.46h-2.46zM258.62 1143.36h2.46v2.46h-2.46zM263.53 1143.36h2.46v2.46h-2.46zM268.45 1143.36h0.63v2.46h-0.63zM251.25 1145.81h2.46v2.46h-2.46zM256.17 1145.81h2.46v2.46h-2.46zM261.08 1145.81h2.46v2.46h-2.46zM265.99 1145.81h2.46v2.46h-2.46zM253.71 1148.27h2.46v2.46h-2.46zM258.62 1148.27h2.46v2.46h-2.46zM263.53 1148.27h2.46v2.46h-2.46zM268.45 1148.27h0.63v2.46h-0.63zM251.25 1150.73h2.46v2.46h-2.46zM256.17 1150.73h2.46v2.46h-2.46zM261.08 1150.73h2.46v2.46h-2.46zM265.99 1150.73h2.46v2.46h-2.46zM253.71 1153.18h2.46v2.46h-2.46zM258.62 1153.18h2.46v2.46h-2.46zM263.53 1153.18h2.46v2.46h-2.46zM268.45 1153.18h0.63v2.46h-0.63zM251.25 1155.64h2.46v2.46h-2.46zM256.17 1155.64h2.46v2.46h-2.46zM261.08 1155.64h2.46v2.46h-2.46zM265.99 1155.64h2.46v2.46h-2.46zM253.71 1158.1h2.46v2.46h-2.46zM258.62 1158.1h2.46v2.46h-2.46zM263.53 1158.1h2.46v2.46h-2.46zM268.45 1158.1h0.63v2.46h-0.63zM251.25 1160.55h2.46v2.46h-2.46zM256.17 1160.55h2.46v2.46h-2.46zM261.08 1160.55h2.46v2.46h-2.46zM265.99 1160.55h2.46v2.46h-2.46zM253.71 1163.01h2.46v2.46h-2.46zM258.62 1163.01h2.46v2.46h-2.46zM263.53 1163.01h2.46v2.46h-2.46zM268.45 1163.01h0.63v2.46h-0.63zM251.25 1165.47h2.46v2.46h-2.46zM256.17 1165.47h2.46v2.46h-2.46zM261.08 1165.47h2.46v2.46h-2.46zM265.99 1165.47h2.46v2.46h-2.46zM253.71 1167.92h2.46v2.46h-2.46zM258.62 1167.92h2.46v2.46h-2.46zM263.53 1167.92h2.46v2.46h-2.46zM268.45 1167.92h0.63v2.46h-0.63zM251.25 1170.38h2.46v2.46h-2.46zM256.17 1170.38h2.46v2.46h-2.46zM261.08 1170.38h2.46v2.46h-2.46zM265.99 1170.38h2.46v2.46h-2.46zM253.71 1172.84h2.46v2.46h-2.46zM258.62 1172.84h2.46v2.46h-2.46zM263.53 1172.84h2.46v2.46h-2.46zM268.45 1172.84h0.63v2.46h-0.63zM251.25 1175.29h2.46v2.46h-2.46zM256.17 1175.29h2.46v2.46h-2.46zM261.08 1175.29h2.46v2.46h-2.46zM265.99 1175.29h2.46v2.46h-2.46zM253.71 1177.75h2.46v2.46h-2.46zM258.62 1177.75h2.46v2.46h-2.46zM263.53 1177.75h2.46v2.46h-2.46zM268.45 1177.75h0.63v2.46h-0.63zM251.25 1180.21h2.46v2.46h-2.46zM256.17 1180.21h2.46v2.46h-2.46zM261.08 1180.21h2.46v2.46h-2.46zM265.99 1180.21h2.46v2.46h-2.46zM253.71 1182.66h2.46v2.46h-2.46zM258.62 1182.66h2.46v2.46h-2.46zM263.53 1182.66h2.46v2.46h-2.46zM268.45 1182.66h0.63v2.46h-0.63zM251.25 1185.12h2.46v2.46h-2.46zM256.17 1185.12h2.46v2.46h-2.46zM261.08 1185.12h2.46v2.46h-2.46zM265.99 1185.12h2.46v2.46h-2.46zM253.71 1187.57h2.46v2.46h-2.46zM258.62 1187.57h2.46v2.46h-2.46zM263.53 1187.57h2.46v2.46h-2.46zM268.45 1187.57h0.63v2.46h-0.63zM251.25 1190.03h2.46v2.46h-2.46zM256.17 1190.03h2.46v2.46h-2.46zM261.08 1190.03h2.46v2.46h-2.46zM265.99 1190.03h2.46v2.46h-2.46zM253.71 1192.49h2.46v2.46h-2.46zM258.62 1192.49h2.46v2.46h-2.46zM263.53 1192.49h2.46v2.46h-2.46zM268.45 1192.49h0.63v2.46h-0.63zM251.25 1194.94h2.46v2.46h-2.46zM256.17 1194.94h2.46v2.46h-2.46zM261.08 1194.94h2.46v2.46h-2.46zM265.99 1194.94h2.46v2.46h-2.46zM253.71 1197.4h2.46v2.46h-2.46zM258.62 1197.4h2.46v2.46h-2.46zM263.53 1197.4h2.46v2.46h-2.46zM268.45 1197.4h0.63v2.46h-0.63zM251.25 1199.86h2.46v2.46h-2.46zM256.17 1199.86h2.46v2.46h-2.46zM261.08 1199.86h2.46v2.46h-2.46zM265.99 1199.86h2.46v2.46h-2.46zM253.71 1202.31h2.46v2.46h-2.46zM258.62 1202.31h2.46v2.46h-2.46zM263.53 1202.31h2.46v2.46h-2.46zM268.45 1202.31h0.63v2.46h-0.63zM251.25 1204.77h2.46v2.46h-2.46zM256.17 1204.77h2.46v2.46h-2.46zM261.08 1204.77h2.46v2.46h-2.46zM265.99 1204.77h2.46v2.46h-2.46zM253.71 1207.23h2.46v2.46h-2.46zM258.62 1207.23h2.46v2.46h-2.46zM263.53 1207.23h2.46v2.46h-2.46zM268.45 1207.23h0.63v2.46h-0.63zM251.25 1209.68h2.46v2.46h-2.46zM256.17 1209.68h2.46v2.46h-2.46zM261.08 1209.68h2.46v2.46h-2.46zM265.99 1209.68h2.46v2.46h-2.46zM253.71 1212.14h2.46v2.46h-2.46zM258.62 1212.14h2.46v2.46h-2.46zM263.53 1212.14h2.46v2.46h-2.46zM268.45 1212.14h0.63v2.46h-0.63zM251.25 1214.6h2.46v2.46h-2.46zM256.17 1214.6h2.46v2.46h-2.46zM261.08 1214.6h2.46v2.46h-2.46zM265.99 1214.6h2.46v2.46h-2.46zM253.71 1217.05h2.46v2.46h-2.46zM258.62 1217.05h2.46v2.46h-2.46zM263.53 1217.05h2.46v2.46h-2.46zM268.45 1217.05h0.63v2.46h-0.63zM251.25 1219.51h2.46v0.19h-2.46zM256.17 1219.51h2.46v0.19h-2.46zM261.08 1219.51h2.46v0.19h-2.46zM265.99 1219.51h2.46v0.19h-2.46z" fill="#333"/>
<rect x="250.62" y="1132.9" width="18.46" height="86.8" fill="none" stroke="#161616" stroke-width="1.26"/>
<path d="M92.2 1094.17V1219.7H279.5M92.2 1219.7h-5.55M92.2 1188.47h-5.55M92.2 1157.25h-5.55M92.2 1126.02h-5.55M92.2 1094.8h-5.55M111.6 1219.7v5.04M141.25 1219.7v5.04M170.9 1219.7v5.04M200.55 1219.7v5.04M230.2 1219.7v5.04M259.85 1219.7v5.04" stroke="#161616" stroke-width="1.26" fill="none"/>
<text transform="translate(84.94 1222.99) scale(0.96 1)" font-size="9.28" font-weight="bold" text-anchor="end" fill="#161616" stroke="#161616" stroke-width="0.15">0</text>
<text transform="translate(84.94 1191.77) scale(0.96 1)" font-size="9.28" font-weight="bold" text-anchor="end" fill="#161616" stroke="#161616" stroke-width="0.15">20</text>
<text transform="translate(84.94 1160.54) scale(0.96 1)" font-size="9.28" font-weight="bold" text-anchor="end" fill="#161616" stroke="#161616" stroke-width="0.15">40</text>
<text transform="translate(84.94 1129.32) scale(0.96 1)" font-size="9.28" font-weight="bold" text-anchor="end" fill="#161616" stroke="#161616" stroke-width="0.15">60</text>
<text transform="translate(84.94 1098.09) scale(0.96 1)" font-size="9.28" font-weight="bold" text-anchor="end" fill="#161616" stroke="#161616" stroke-width="0.15">80</text>
<text transform="translate(67.6 1157.4) rotate(-90)" font-size="9.38" font-weight="bold" text-anchor="middle" textLength="90" lengthAdjust="spacingAndGlyphs" fill="#161616" stroke="#161616" stroke-width="0.3">IL-6 of brain(pg/mg)</text>
<text transform="translate(113.42 1233.31) rotate(-45)" font-size="8.95" font-weight="bold" text-anchor="end" textLength="31.77" lengthAdjust="spacingAndGlyphs" fill="#161616" stroke="#161616" stroke-width="0.18">Control</text>
<text transform="translate(143.07 1233.31) rotate(-45)" font-size="8.95" font-weight="bold" text-anchor="end" textLength="21.68" lengthAdjust="spacingAndGlyphs" fill="#161616" stroke="#161616" stroke-width="0.18">Sham</text>
<text transform="translate(172.72 1233.31) rotate(-45)" font-size="8.95" font-weight="bold" text-anchor="end" textLength="22.69" lengthAdjust="spacingAndGlyphs" fill="#161616" stroke="#161616" stroke-width="0.18">CPSP</text>
<text transform="translate(202.37 1233.31) rotate(-45)" font-size="8.95" font-weight="bold" text-anchor="end" textLength="69.59" lengthAdjust="spacingAndGlyphs" fill="#161616" stroke="#161616" stroke-width="0.18">CPSP+ <tspan font-style="italic">MEG3</tspan> KD</text>
<text transform="translate(232.02 1233.31) rotate(-45)" font-size="8.95" font-weight="bold" text-anchor="end" textLength="10.09" lengthAdjust="spacingAndGlyphs" fill="#161616" stroke="#161616" stroke-width="0.18">EA</text>
<text transform="translate(261.67 1233.31) rotate(-45)" font-size="8.95" font-weight="bold" text-anchor="end" textLength="57.99" lengthAdjust="spacingAndGlyphs" fill="#161616" stroke="#161616" stroke-width="0.18">EA+ <tspan font-style="italic">MEG3</tspan> OE</text>
<path d="M170.9 1066.4V1059.4H230.2V1066.4" stroke="#161616" stroke-width="1.13" fill="none"/>
<text x="200.55" y="1052.99" font-size="7.46" text-anchor="middle" textLength="37.11" fill="#333" stroke="#333" stroke-width="0.12">P &lt; 0.0001</text>
<path d="M170.9 1089.6V1082.6H200.55V1089.6" stroke="#161616" stroke-width="1.13" fill="none"/>
<text x="185.72" y="1076.79" font-size="7.46" text-anchor="middle" textLength="37.11" fill="#333" stroke="#333" stroke-width="0.12">P = 0.0001</text>
<path d="M141.25 1113.4V1106H170.9V1113.4" stroke="#161616" stroke-width="1.13" fill="none"/>
<text x="156.07" y="1100.29" font-size="7.46" text-anchor="middle" textLength="37.11" fill="#333" stroke="#333" stroke-width="0.12">P &lt; 0.0001</text>
<path d="M230.2 1113.4V1106H259.85V1113.4" stroke="#161616" stroke-width="1.13" fill="none"/>
<text x="245.03" y="1100.29" font-size="7.46" text-anchor="middle" textLength="37.11" fill="#333" stroke="#333" stroke-width="0.12">P = 0.0154</text>
</g>
<g id="panel-h">
<text transform="translate(391.1 997) scale(0.88 1)" font-size="20" font-weight="bold" fill="#0c0c0c" stroke="#0c0c0c" stroke-width="0.3">h</text>
<path d="M484.8 1153.2V1149.3M480.17 1149.3H489.43" stroke="#161616" stroke-width="1.26" fill="none"/>
<rect x="475.6" y="1153.2" width="18.4" height="66.5" fill="#ffffff" stroke="#161616" stroke-width="1.26"/>
<path d="M514.36 1153.2V1148.6M509.73 1148.6H518.99" stroke="#161616" stroke-width="1.26" fill="none"/>
<rect x="505.16" y="1153.2" width="18.4" height="66.5" fill="#dedede" stroke="#161616" stroke-width="1.26"/>
<path d="M543.92 1126.6V1120.6M539.29 1120.6H548.55" stroke="#161616" stroke-width="1.26" fill="none"/>
<rect x="534.72" y="1126.6" width="18.4" height="93.1" fill="#737373" stroke="#161616" stroke-width="1.26"/>
<path d="M573.48 1146.9V1141.6M568.85 1141.6H578.11" stroke="#161616" stroke-width="1.26" fill="none"/>
<rect x="564.28" y="1146.9" width="18.4" height="72.8" fill="#b2b2b2" stroke="#161616" stroke-width="1.26"/>
<path d="M603.04 1149V1145.1M598.41 1145.1H607.67" stroke="#161616" stroke-width="1.26" fill="none"/>
<rect x="593.84" y="1149" width="18.4" height="70.7" fill="#fff"/>
<path d="M593.84 1217.87L595.95 1219.7M593.84 1215.25L598.97 1219.7M593.84 1212.64L601.99 1219.7M593.84 1210.02L605 1219.7M593.84 1207.41L608.02 1219.7M593.84 1204.8L611.04 1219.7M593.84 1202.18L612.24 1218.13M593.84 1199.57L612.24 1215.52M593.84 1196.95L612.24 1212.9M593.84 1194.34L612.24 1210.29M593.84 1191.73L612.24 1207.67M593.84 1189.11L612.24 1205.06M593.84 1186.5L612.24 1202.44M593.84 1183.88L612.24 1199.83M593.84 1181.27L612.24 1197.22M593.84 1178.66L612.24 1194.6M593.84 1176.04L612.24 1191.99M593.84 1173.43L612.24 1189.37M593.84 1170.81L612.24 1186.76M593.84 1168.2L612.24 1184.15M593.84 1165.58L612.24 1181.53M593.84 1162.97L612.24 1178.92M593.84 1160.36L612.24 1176.3M593.84 1157.74L612.24 1173.69M593.84 1155.13L612.24 1171.07M593.84 1152.51L612.24 1168.46M593.84 1149.9L612.24 1165.85M595.82 1149L612.24 1163.23M598.83 1149L612.24 1160.62M601.85 1149L612.24 1158M604.87 1149L612.24 1155.39M607.88 1149L612.24 1152.78M610.9 1149L612.24 1150.16" stroke="#2a2a2a" stroke-width="0.78" fill="none"/>
<rect x="593.84" y="1149" width="18.4" height="70.7" fill="none" stroke="#161616" stroke-width="1.26"/>
<path d="M632.6 1142.3V1138.8M627.97 1138.8H637.23" stroke="#161616" stroke-width="1.26" fill="none"/>
<rect x="623.4" y="1142.3" width="18.4" height="77.4" fill="#fff"/>
<path d="M626.48 1142.93h2.45v2.45h-2.45zM631.38 1142.93h2.45v2.45h-2.45zM636.27 1142.93h2.45v2.45h-2.45zM641.17 1142.93h0.63v2.45h-0.63zM624.03 1145.38h2.45v2.45h-2.45zM628.93 1145.38h2.45v2.45h-2.45zM633.82 1145.38h2.45v2.45h-2.45zM638.72 1145.38h2.45v2.45h-2.45zM626.48 1147.83h2.45v2.45h-2.45zM631.38 1147.83h2.45v2.45h-2.45zM636.27 1147.83h2.45v2.45h-2.45zM641.17 1147.83h0.63v2.45h-0.63zM624.03 1150.28h2.45v2.45h-2.45zM628.93 1150.28h2.45v2.45h-2.45zM633.82 1150.28h2.45v2.45h-2.45zM638.72 1150.28h2.45v2.45h-2.45zM626.48 1152.72h2.45v2.45h-2.45zM631.38 1152.72h2.45v2.45h-2.45zM636.27 1152.72h2.45v2.45h-2.45zM641.17 1152.72h0.63v2.45h-0.63zM624.03 1155.17h2.45v2.45h-2.45zM628.93 1155.17h2.45v2.45h-2.45zM633.82 1155.17h2.45v2.45h-2.45zM638.72 1155.17h2.45v2.45h-2.45zM626.48 1157.62h2.45v2.45h-2.45zM631.38 1157.62h2.45v2.45h-2.45zM636.27 1157.62h2.45v2.45h-2.45zM641.17 1157.62h0.63v2.45h-0.63zM624.03 1160.07h2.45v2.45h-2.45zM628.93 1160.07h2.45v2.45h-2.45zM633.82 1160.07h2.45v2.45h-2.45zM638.72 1160.07h2.45v2.45h-2.45zM626.48 1162.52h2.45v2.45h-2.45zM631.38 1162.52h2.45v2.45h-2.45zM636.27 1162.52h2.45v2.45h-2.45zM641.17 1162.52h0.63v2.45h-0.63zM624.03 1164.97h2.45v2.45h-2.45zM628.93 1164.97h2.45v2.45h-2.45zM633.82 1164.97h2.45v2.45h-2.45zM638.72 1164.97h2.45v2.45h-2.45zM626.48 1167.42h2.45v2.45h-2.45zM631.38 1167.42h2.45v2.45h-2.45zM636.27 1167.42h2.45v2.45h-2.45zM641.17 1167.42h0.63v2.45h-0.63zM624.03 1169.87h2.45v2.45h-2.45zM628.93 1169.87h2.45v2.45h-2.45zM633.82 1169.87h2.45v2.45h-2.45zM638.72 1169.87h2.45v2.45h-2.45zM626.48 1172.32h2.45v2.45h-2.45zM631.38 1172.32h2.45v2.45h-2.45zM636.27 1172.32h2.45v2.45h-2.45zM641.17 1172.32h0.63v2.45h-0.63zM624.03 1174.77h2.45v2.45h-2.45zM628.93 1174.77h2.45v2.45h-2.45zM633.82 1174.77h2.45v2.45h-2.45zM638.72 1174.77h2.45v2.45h-2.45zM626.48 1177.22h2.45v2.45h-2.45zM631.38 1177.22h2.45v2.45h-2.45zM636.27 1177.22h2.45v2.45h-2.45zM641.17 1177.22h0.63v2.45h-0.63zM624.03 1179.67h2.45v2.45h-2.45zM628.93 1179.67h2.45v2.45h-2.45zM633.82 1179.67h2.45v2.45h-2.45zM638.72 1179.67h2.45v2.45h-2.45zM626.48 1182.11h2.45v2.45h-2.45zM631.38 1182.11h2.45v2.45h-2.45zM636.27 1182.11h2.45v2.45h-2.45zM641.17 1182.11h0.63v2.45h-0.63zM624.03 1184.56h2.45v2.45h-2.45zM628.93 1184.56h2.45v2.45h-2.45zM633.82 1184.56h2.45v2.45h-2.45zM638.72 1184.56h2.45v2.45h-2.45zM626.48 1187.01h2.45v2.45h-2.45zM631.38 1187.01h2.45v2.45h-2.45zM636.27 1187.01h2.45v2.45h-2.45zM641.17 1187.01h0.63v2.45h-0.63zM624.03 1189.46h2.45v2.45h-2.45zM628.93 1189.46h2.45v2.45h-2.45zM633.82 1189.46h2.45v2.45h-2.45zM638.72 1189.46h2.45v2.45h-2.45zM626.48 1191.91h2.45v2.45h-2.45zM631.38 1191.91h2.45v2.45h-2.45zM636.27 1191.91h2.45v2.45h-2.45zM641.17 1191.91h0.63v2.45h-0.63zM624.03 1194.36h2.45v2.45h-2.45zM628.93 1194.36h2.45v2.45h-2.45zM633.82 1194.36h2.45v2.45h-2.45zM638.72 1194.36h2.45v2.45h-2.45zM626.48 1196.81h2.45v2.45h-2.45zM631.38 1196.81h2.45v2.45h-2.45zM636.27 1196.81h2.45v2.45h-2.45zM641.17 1196.81h0.63v2.45h-0.63zM624.03 1199.26h2.45v2.45h-2.45zM628.93 1199.26h2.45v2.45h-2.45zM633.82 1199.26h2.45v2.45h-2.45zM638.72 1199.26h2.45v2.45h-2.45zM626.48 1201.71h2.45v2.45h-2.45zM631.38 1201.71h2.45v2.45h-2.45zM636.27 1201.71h2.45v2.45h-2.45zM641.17 1201.71h0.63v2.45h-0.63zM624.03 1204.16h2.45v2.45h-2.45zM628.93 1204.16h2.45v2.45h-2.45zM633.82 1204.16h2.45v2.45h-2.45zM638.72 1204.16h2.45v2.45h-2.45zM626.48 1206.61h2.45v2.45h-2.45zM631.38 1206.61h2.45v2.45h-2.45zM636.27 1206.61h2.45v2.45h-2.45zM641.17 1206.61h0.63v2.45h-0.63zM624.03 1209.05h2.45v2.45h-2.45zM628.93 1209.05h2.45v2.45h-2.45zM633.82 1209.05h2.45v2.45h-2.45zM638.72 1209.05h2.45v2.45h-2.45zM626.48 1211.5h2.45v2.45h-2.45zM631.38 1211.5h2.45v2.45h-2.45zM636.27 1211.5h2.45v2.45h-2.45zM641.17 1211.5h0.63v2.45h-0.63zM624.03 1213.95h2.45v2.45h-2.45zM628.93 1213.95h2.45v2.45h-2.45zM633.82 1213.95h2.45v2.45h-2.45zM638.72 1213.95h2.45v2.45h-2.45zM626.48 1216.4h2.45v2.45h-2.45zM631.38 1216.4h2.45v2.45h-2.45zM636.27 1216.4h2.45v2.45h-2.45zM641.17 1216.4h0.63v2.45h-0.63zM624.03 1218.85h2.45v0.85h-2.45zM628.93 1218.85h2.45v0.85h-2.45zM633.82 1218.85h2.45v0.85h-2.45zM638.72 1218.85h2.45v0.85h-2.45z" fill="#333"/>
<rect x="623.4" y="1142.3" width="18.4" height="77.4" fill="none" stroke="#161616" stroke-width="1.26"/>
<path d="M465.5 1094.87V1219.7H652M465.5 1219.7h-5.53M465.5 1188.65h-5.53M465.5 1157.6h-5.53M465.5 1126.55h-5.53M465.5 1095.5h-5.53M484.8 1219.7v5.03M514.36 1219.7v5.03M543.92 1219.7v5.03M573.48 1219.7v5.03M603.04 1219.7v5.03M632.6 1219.7v5.03" stroke="#161616" stroke-width="1.26" fill="none"/>
<text transform="translate(458.26 1222.98) scale(0.96 1)" font-size="9.25" font-weight="bold" text-anchor="end" fill="#161616" stroke="#161616" stroke-width="0.15">0</text>
<text transform="translate(458.26 1191.93) scale(0.96 1)" font-size="9.25" font-weight="bold" text-anchor="end" fill="#161616" stroke="#161616" stroke-width="0.15">20</text>
<text transform="translate(458.26 1160.88) scale(0.96 1)" font-size="9.25" font-weight="bold" text-anchor="end" fill="#161616" stroke="#161616" stroke-width="0.15">40</text>
<text transform="translate(458.26 1129.83) scale(0.96 1)" font-size="9.25" font-weight="bold" text-anchor="end" fill="#161616" stroke="#161616" stroke-width="0.15">60</text>
<text transform="translate(458.26 1098.78) scale(0.96 1)" font-size="9.25" font-weight="bold" text-anchor="end" fill="#161616" stroke="#161616" stroke-width="0.15">80</text>
<text transform="translate(440.3 1157.9) rotate(-90)" font-size="9.35" font-weight="bold" text-anchor="middle" textLength="93.2" lengthAdjust="spacingAndGlyphs" fill="#161616" stroke="#161616" stroke-width="0.3">IL-6 of serum(pg/mL)</text>
<text transform="translate(486.61 1233.27) rotate(-45)" font-size="8.93" font-weight="bold" text-anchor="end" textLength="31.67" lengthAdjust="spacingAndGlyphs" fill="#161616" stroke="#161616" stroke-width="0.18">Control</text>
<text transform="translate(516.17 1233.27) rotate(-45)" font-size="8.93" font-weight="bold" text-anchor="end" textLength="21.62" lengthAdjust="spacingAndGlyphs" fill="#161616" stroke="#161616" stroke-width="0.18">Sham</text>
<text transform="translate(545.73 1233.27) rotate(-45)" font-size="8.93" font-weight="bold" text-anchor="end" textLength="22.62" lengthAdjust="spacingAndGlyphs" fill="#161616" stroke="#161616" stroke-width="0.18">CPSP</text>
<text transform="translate(575.29 1233.27) rotate(-45)" font-size="8.93" font-weight="bold" text-anchor="end" textLength="69.38" lengthAdjust="spacingAndGlyphs" fill="#161616" stroke="#161616" stroke-width="0.18">CPSP+ <tspan font-style="italic">MEG3</tspan> KD</text>
<text transform="translate(604.85 1233.27) rotate(-45)" font-size="8.93" font-weight="bold" text-anchor="end" textLength="10.05" lengthAdjust="spacingAndGlyphs" fill="#161616" stroke="#161616" stroke-width="0.18">EA</text>
<text transform="translate(634.41 1233.27) rotate(-45)" font-size="8.93" font-weight="bold" text-anchor="end" textLength="57.81" lengthAdjust="spacingAndGlyphs" fill="#161616" stroke="#161616" stroke-width="0.18">EA+ <tspan font-style="italic">MEG3</tspan> OE</text>
<path d="M543.92 1066.1V1059.1H603.04V1066.1" stroke="#161616" stroke-width="1.13" fill="none"/>
<text x="573.48" y="1052.98" font-size="7.44" text-anchor="middle" textLength="37" fill="#333" stroke="#333" stroke-width="0.12">P = 0.0084</text>
<path d="M543.92 1089.6V1082.2H573.48V1089.6" stroke="#161616" stroke-width="1.13" fill="none"/>
<text x="558.7" y="1076.78" font-size="7.44" text-anchor="middle" textLength="37" fill="#333" stroke="#333" stroke-width="0.12">P = 0.0219</text>
<path d="M514.36 1113V1105.7H543.92V1113" stroke="#161616" stroke-width="1.13" fill="none"/>
<text x="529.14" y="1100.28" font-size="7.44" text-anchor="middle" textLength="37" fill="#333" stroke="#333" stroke-width="0.12">P = 0.0009</text>
</g>
</svg>
</body></html>
